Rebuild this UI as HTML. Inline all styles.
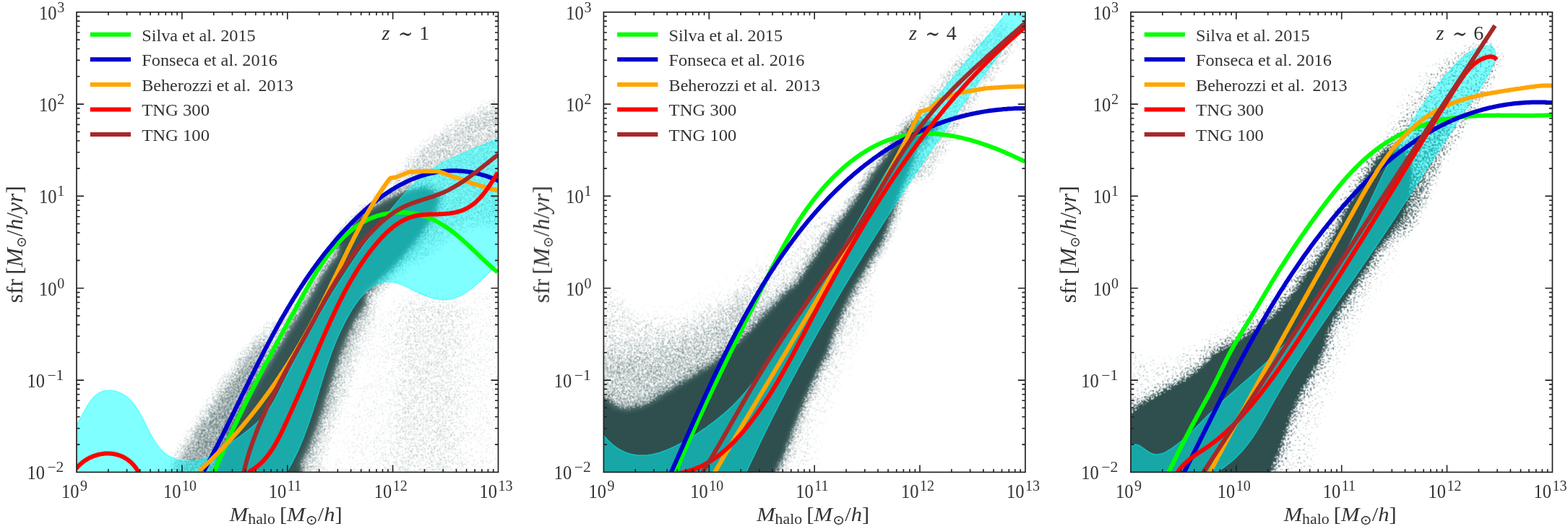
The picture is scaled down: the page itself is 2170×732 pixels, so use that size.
<!DOCTYPE html>
<html><head><meta charset="utf-8"><style>html,body{margin:0;padding:0;background:#fff;overflow:hidden}svg{display:block}text{font-family:"Liberation Serif", "DejaVu Serif", serif;fill:#333}</style></head>
<body><svg width="2170" height="732" viewBox="0 0 2170 732"><defs><clipPath id="c0"><rect x="106" y="16.8" width="583.5" height="636.6"/></clipPath><clipPath id="c1"><rect x="835.4" y="16.8" width="583.5" height="636.6"/></clipPath><clipPath id="c2"><rect x="1564.9" y="16.8" width="583.5" height="636.6"/></clipPath><filter id="b0_0" filterUnits="userSpaceOnUse" x="0" y="0" width="2170" height="732"><feGaussianBlur stdDeviation="12"/></filter><filter id="b0_1" filterUnits="userSpaceOnUse" x="0" y="0" width="2170" height="732"><feGaussianBlur stdDeviation="14"/></filter><filter id="b0_2" filterUnits="userSpaceOnUse" x="0" y="0" width="2170" height="732"><feGaussianBlur stdDeviation="8"/></filter><filter id="b0_3" filterUnits="userSpaceOnUse" x="0" y="0" width="2170" height="732"><feGaussianBlur stdDeviation="8"/></filter><filter id="b0_4" filterUnits="userSpaceOnUse" x="0" y="0" width="2170" height="732"><feGaussianBlur stdDeviation="6"/></filter><filter id="b0_5" filterUnits="userSpaceOnUse" x="0" y="0" width="2170" height="732"><feGaussianBlur stdDeviation="3"/></filter><filter id="b1_0" filterUnits="userSpaceOnUse" x="0" y="0" width="2170" height="732"><feGaussianBlur stdDeviation="10"/></filter><filter id="b1_1" filterUnits="userSpaceOnUse" x="0" y="0" width="2170" height="732"><feGaussianBlur stdDeviation="16"/></filter><filter id="b1_2" filterUnits="userSpaceOnUse" x="0" y="0" width="2170" height="732"><feGaussianBlur stdDeviation="14"/></filter><filter id="b1_3" filterUnits="userSpaceOnUse" x="0" y="0" width="2170" height="732"><feGaussianBlur stdDeviation="7"/></filter><filter id="b1_4" filterUnits="userSpaceOnUse" x="0" y="0" width="2170" height="732"><feGaussianBlur stdDeviation="6"/></filter><filter id="b1_5" filterUnits="userSpaceOnUse" x="0" y="0" width="2170" height="732"><feGaussianBlur stdDeviation="3"/></filter><filter id="b1_6" filterUnits="userSpaceOnUse" x="0" y="0" width="2170" height="732"><feGaussianBlur stdDeviation="1.2"/></filter><filter id="b2_0" filterUnits="userSpaceOnUse" x="0" y="0" width="2170" height="732"><feGaussianBlur stdDeviation="8"/></filter><filter id="b2_1" filterUnits="userSpaceOnUse" x="0" y="0" width="2170" height="732"><feGaussianBlur stdDeviation="6"/></filter><filter id="b2_2" filterUnits="userSpaceOnUse" x="0" y="0" width="2170" height="732"><feGaussianBlur stdDeviation="7"/></filter><filter id="b2_3" filterUnits="userSpaceOnUse" x="0" y="0" width="2170" height="732"><feGaussianBlur stdDeviation="5"/></filter><filter id="b2_4" filterUnits="userSpaceOnUse" x="0" y="0" width="2170" height="732"><feGaussianBlur stdDeviation="2"/></filter><filter id="b2_5" filterUnits="userSpaceOnUse" x="0" y="0" width="2170" height="732"><feGaussianBlur stdDeviation="1.0"/></filter><filter id="speck0" filterUnits="userSpaceOnUse" x="106" y="16.8" width="583.5" height="636.6" color-interpolation-filters="sRGB"><feTurbulence type="fractalNoise" baseFrequency="0.75" numOctaves="2" seed="3" result="n"/><feColorMatrix in="n" type="matrix" values="0 0 0 0 0  0 0 0 0 0  0 0 0 0 0  1 0 0 0 0" result="na"/><feComponentTransfer in="na" result="nu"><feFuncA type="table" tableValues="0.0000 0.0000 0.0000 0.0000 0.0000 0.0000 0.0003 0.0011 0.0028 0.0072 0.0140 0.0283 0.0481 0.0735 0.1112 0.1523 0.2000 0.2661 0.3294 0.4096 0.4763 0.5944 0.6737 0.7356 0.7996 0.8468 0.8869 0.9254 0.9511 0.9704 0.9847 0.9920 0.9960 0.9984 0.9995 0.9999 1.0000 1.0000 1.0000 1.0000 1.0000"/></feComponentTransfer><feComposite in="SourceAlpha" in2="nu" operator="arithmetic" k1="0" k2="18.0" k3="-12" k4="0" result="m0"/><feConvolveMatrix in="m0" order="3" kernelMatrix="1 2 1 2 4 2 1 2 1" edgeMode="none" result="m1"/><feComposite in="m1" in2="SourceAlpha" operator="arithmetic" k1="0.6" k2="0.4" k3="0" k4="0" result="m"/><feFlood flood-color="#2f4f4f" result="fc"/><feComposite in="fc" in2="m" operator="in"/></filter><filter id="speck1" filterUnits="userSpaceOnUse" x="835.4" y="16.8" width="583.5" height="636.6" color-interpolation-filters="sRGB"><feTurbulence type="fractalNoise" baseFrequency="0.7" numOctaves="2" seed="4" result="n"/><feColorMatrix in="n" type="matrix" values="0 0 0 0 0  0 0 0 0 0  0 0 0 0 0  1 0 0 0 0" result="na"/><feComponentTransfer in="na" result="nu"><feFuncA type="table" tableValues="0.0000 0.0000 0.0000 0.0000 0.0000 0.0000 0.0003 0.0011 0.0028 0.0072 0.0140 0.0283 0.0481 0.0735 0.1112 0.1523 0.2000 0.2661 0.3294 0.4096 0.4763 0.5944 0.6737 0.7356 0.7996 0.8468 0.8869 0.9254 0.9511 0.9704 0.9847 0.9920 0.9960 0.9984 0.9995 0.9999 1.0000 1.0000 1.0000 1.0000 1.0000"/></feComponentTransfer><feComposite in="SourceAlpha" in2="nu" operator="arithmetic" k1="0" k2="15.600000000000001" k3="-12" k4="0" result="m0"/><feConvolveMatrix in="m0" order="3" kernelMatrix="1 2 1 2 4 2 1 2 1" edgeMode="none" result="m1"/><feComposite in="m1" in2="SourceAlpha" operator="arithmetic" k1="0.4" k2="0.6" k3="0" k4="0" result="m"/><feFlood flood-color="#2f4f4f" result="fc"/><feComposite in="fc" in2="m" operator="in"/></filter><filter id="speck2" filterUnits="userSpaceOnUse" x="1564.9" y="16.8" width="583.5" height="636.6" color-interpolation-filters="sRGB"><feTurbulence type="fractalNoise" baseFrequency="0.45" numOctaves="2" seed="5" result="n"/><feColorMatrix in="n" type="matrix" values="0 0 0 0 0  0 0 0 0 0  0 0 0 0 0  1 0 0 0 0" result="na"/><feComponentTransfer in="na" result="nu"><feFuncA type="table" tableValues="0.0000 0.0000 0.0000 0.0000 0.0000 0.0000 0.0003 0.0011 0.0028 0.0072 0.0140 0.0283 0.0481 0.0735 0.1112 0.1523 0.2000 0.2661 0.3294 0.4096 0.4763 0.5944 0.6737 0.7356 0.7996 0.8468 0.8869 0.9254 0.9511 0.9704 0.9847 0.9920 0.9960 0.9984 0.9995 0.9999 1.0000 1.0000 1.0000 1.0000 1.0000"/></feComponentTransfer><feComposite in="SourceAlpha" in2="nu" operator="arithmetic" k1="0" k2="13.200000000000001" k3="-12" k4="0" result="m0"/><feConvolveMatrix in="m0" order="3" kernelMatrix="1 2 1 2 6 2 1 2 1" edgeMode="none" result="m1"/><feComposite in="m1" in2="SourceAlpha" operator="arithmetic" k1="0.15000000000000002" k2="0.85" k3="0" k4="0" result="m"/><feFlood flood-color="#2f4f4f" result="fc"/><feComposite in="fc" in2="m" operator="in"/></filter></defs>
<g clip-path="url(#c0)">
<g filter="url(#speck0)">
<g opacity="0.05" filter="url(#b0_0)"><path d="M455 700 C416.7 683.3 464.2 630 470 600 C475.8 570 484.2 541.7 490 520 C495.8 498.3 499.2 485 505 470 C510.8 455 515.8 440 525 430 C534.2 420 547.5 411.7 560 410 C572.5 408.3 586.7 419.2 600 420 C613.3 420.8 623.3 419.2 640 415 C656.7 410.8 690 347.5 700 395 C710 442.5 740.8 649.2 700 700 C659.2 750.8 493.3 716.7 455 700Z" fill="#000"/></g>
<g opacity="0.07" filter="url(#b0_1)"><path d="M545 700 C531.3 676.7 546.8 601.7 548 560 C549.2 518.3 549.2 475.8 552 450 C554.8 424.2 557 413.3 565 405 C573 396.7 589.2 399.2 600 400 C610.8 400.8 623.3 400 630 410 C636.7 420 639 435 640 460 C641 485 637.7 520 636 560 C634.3 600 645.2 676.7 630 700 C614.8 723.3 558.7 723.3 545 700Z" fill="#000"/></g>
<g opacity="0.25" filter="url(#b0_2)"><path d="M215 700 C181.5 700 224.8 670.8 230 660 C235.2 649.2 237.7 649.2 246 635 C254.3 620.8 267.7 595.3 280 575 C292.3 554.7 308.8 528.8 320 513 C331.2 497.2 337.8 490.5 347 480 C356.2 469.5 364.8 460 375 450 C385.2 440 398.3 430.8 408 420 C417.7 409.2 424 397.5 433 385 C442 372.5 453.2 356.7 462 345 C470.8 333.3 478.8 323.3 486 315 C493.2 306.7 498 302.2 505 295 C512 287.8 521.3 279.5 528 272 C534.7 264.5 539 257.7 545 250 C551 242.3 557.6 233.2 564 226 C570.4 218.8 575.4 214.3 583.6 207 C591.8 199.7 602.6 189.5 613 182 C623.4 174.5 633.3 169 646 162 C658.7 155 680 144.2 689 140 C698 135.8 698.2 110.3 700 137 C701.8 163.7 706.7 271.2 700 300 C693.3 328.8 673.3 305 660 310 C646.7 315 631.7 322.5 620 330 C608.3 337.5 600 347.5 590 355 C580 362.5 569.2 368.3 560 375 C550.8 381.7 542.5 387.5 535 395 C527.5 402.5 518.4 412.5 515 420 C511.6 427.5 516.4 433.3 514.7 440 C513 446.7 507.8 453.3 504.7 460 C501.6 466.7 498.9 473.3 496.2 480 C493.6 486.7 491.2 493.3 488.9 500 C486.5 506.7 484.4 513.3 482.2 520 C480.1 526.7 478 533.3 476 540 C473.9 546.7 471.9 553.3 469.7 560 C467.6 566.7 465.5 573.3 463.3 580 C461 586.7 458.7 593.3 456.1 600 C453.6 606.7 450.9 613.3 447.9 620 C445 626.7 441.2 633.3 438.3 640 C435.5 646.7 468.3 650 431.1 660 C393.9 670 248.5 700 215 700Z" fill="#000"/></g>
<g opacity="0.3" filter="url(#b0_3)"><path d="M235 660 C225 655 243.3 641.7 250 630 C256.7 618.3 266.7 602.5 275 590 C283.3 577.5 291.7 566.7 300 555 C308.3 543.3 317.5 530.8 325 520 C332.5 509.2 338.3 498.3 345 490 C351.7 481.7 362.5 465 365 470 C367.5 475 364.2 501.7 360 520 C355.8 538.3 346.7 560 340 580 C333.3 600 325 626.7 320 640 C315 653.3 324.2 656.7 310 660 C295.8 663.3 245 665 235 660Z" fill="#000"/></g>
<g opacity="0.45" filter="url(#b0_4)"><path d="M291.7 670 C274.2 668.3 296.9 656.7 299.7 650 C302.5 643.3 305.3 636.7 308.2 630 C311.1 623.3 314 616.7 317 610 C320.1 603.3 323.1 596.7 326.3 590 C329.4 583.3 332.4 576.7 335.8 570 C339.2 563.3 342.8 556.7 346.6 550 C350.3 543.3 354.4 536.7 358.4 530 C362.4 523.3 366.5 516.7 370.6 510 C374.6 503.3 378.8 496.7 382.9 490 C387 483.3 391.2 476.7 395.4 470 C399.6 463.3 403.8 456.7 408 450 C412.2 443.3 416.6 436.7 420.7 430 C424.7 423.3 428.6 416.7 432.5 410 C436.4 403.3 439.9 396.7 443.8 390 C447.8 383.3 451.7 376.7 456.1 370 C460.5 363.3 467.9 356.3 470.2 350 C472.6 343.7 467.5 337.3 470 332 C472.5 326.7 480 323.3 485 318 C490 312.7 492.5 306 500 300 C507.5 294 520 287.3 530 282 C540 276.7 550 271.3 560 268 C570 264.7 582.5 260.8 590 262 C597.5 263.2 604.2 268.7 605 275 C605.8 281.3 600 290.8 595 300 C590 309.2 582.5 320 575 330 C567.5 340 558.3 350.8 550 360 C541.7 369.2 532.5 377.5 525 385 C517.5 392.5 508.7 399.2 505 405 C501.3 410.8 505.2 414.2 502.8 420 C500.5 425.8 494.4 433.3 490.7 440 C487 446.7 483.8 453.3 480.7 460 C477.6 466.7 474.9 473.3 472.2 480 C469.6 486.7 467.2 493.3 464.9 500 C462.5 506.7 460.4 513.3 458.2 520 C456.1 526.7 454 533.3 452 540 C449.9 546.7 447.9 553.3 445.7 560 C443.6 566.7 441.5 573.3 439.3 580 C437 586.7 434.7 593.3 432.1 600 C429.6 606.7 426.9 613.3 423.9 620 C421 626.7 417.6 633.3 414.3 640 C411.1 646.7 424.7 655 404.3 660 C383.8 665 309.1 671.7 291.7 670Z" fill="#000" stroke="#000" stroke-width="12" stroke-linejoin="round"/></g>
<g opacity="0.9" filter="url(#b0_5)"><path d="M291.7 670 C274.2 668.3 296.9 656.7 299.7 650 C302.5 643.3 305.3 636.7 308.2 630 C311.1 623.3 314 616.7 317 610 C320.1 603.3 323.1 596.7 326.3 590 C329.4 583.3 332.4 576.7 335.8 570 C339.2 563.3 342.8 556.7 346.6 550 C350.3 543.3 354.4 536.7 358.4 530 C362.4 523.3 366.5 516.7 370.6 510 C374.6 503.3 378.8 496.7 382.9 490 C387 483.3 391.2 476.7 395.4 470 C399.6 463.3 403.8 456.7 408 450 C412.2 443.3 416.6 436.7 420.7 430 C424.7 423.3 428.6 416.7 432.5 410 C436.4 403.3 439.9 396.7 443.8 390 C447.8 383.3 451.7 376.7 456.1 370 C460.5 363.3 467.9 356.3 470.2 350 C472.6 343.7 467.5 337.3 470 332 C472.5 326.7 480 323.3 485 318 C490 312.7 492.5 306 500 300 C507.5 294 520 287.3 530 282 C540 276.7 550 271.3 560 268 C570 264.7 582.5 260.8 590 262 C597.5 263.2 604.2 268.7 605 275 C605.8 281.3 600 290.8 595 300 C590 309.2 582.5 320 575 330 C567.5 340 558.3 350.8 550 360 C541.7 369.2 532.5 377.5 525 385 C517.5 392.5 508.7 399.2 505 405 C501.3 410.8 505.2 414.2 502.8 420 C500.5 425.8 494.4 433.3 490.7 440 C487 446.7 483.8 453.3 480.7 460 C477.6 466.7 474.9 473.3 472.2 480 C469.6 486.7 467.2 493.3 464.9 500 C462.5 506.7 460.4 513.3 458.2 520 C456.1 526.7 454 533.3 452 540 C449.9 546.7 447.9 553.3 445.7 560 C443.6 566.7 441.5 573.3 439.3 580 C437 586.7 434.7 593.3 432.1 600 C429.6 606.7 426.9 613.3 423.9 620 C421 626.7 417.6 633.3 414.3 640 C411.1 646.7 424.7 655 404.3 660 C383.8 665 309.1 671.7 291.7 670Z" fill="#000"/></g>
</g>
<path d="M106.1 587.3 L107.4 585.3 L108.8 583 L110.2 580.6 L111.6 578 L113.1 575.2 L114.6 572.4 L116.2 569.5 L117.8 566.5 L119.5 563.6 L121.2 560.7 L123.1 557.9 L125 555.2 L127 552.6 L129.1 550.2 L131.3 548 L133.6 546 L136 544.3 L138.5 542.9 L141.1 541.8 L143.8 541 L146.6 540.4 L149.4 540.2 L152.2 540.1 L155.1 540.4 L157.9 540.8 L160.8 541.5 L163.6 542.4 L166.3 543.5 L168.9 544.7 L171.4 546.2 L173.9 547.8 L176.2 549.5 L178.4 551.4 L180.5 553.4 L182.5 555.6 L184.4 557.8 L186.2 560.2 L188 562.6 L189.7 565.2 L191.4 567.8 L193 570.5 L194.5 573.2 L196 576 L197.5 578.8 L199 581.7 L200.4 584.6 L201.9 587.5 L203.3 590.4 L204.7 593.3 L206.2 596.1 L207.7 599 L209.2 601.8 L210.7 604.6 L212.2 607.3 L213.9 609.9 L215.5 612.5 L217.2 615 L219 617.4 L220.9 619.7 L222.9 621.9 L224.9 624 L227 626 L229.3 627.8 L231.6 629.5 L234 631 L236.6 632.4 L239.3 633.6 L242 634.7 L244.8 635.6 L247.7 636.3 L250.6 637 L253.6 637.4 L256.6 637.7 L259.6 637.9 L262.6 637.9 L265.7 637.8 L268.7 637.5 L271.7 637.1 L274.6 636.6 L277.6 635.9 L280.5 635 L283.3 634 L286.1 633 L288.8 631.7 L291.6 630.4 L294.2 629.1 L296.9 627.6 L299.5 626 L302.1 624.4 L304.7 622.8 L307.3 621.1 L309.8 619.4 L312.4 617.6 L314.9 615.8 L317.4 614.1 L319.9 612.3 L322.4 610.6 L325 608.8 L327.4 607 L329.9 605.2 L332.4 603.5 L334.8 601.7 L337.3 599.9 L339.7 598 L342 596.2 L344.4 594.3 L346.7 592.4 L349 590.5 L351.2 588.6 L353.5 586.6 L355.6 584.6 L357.8 582.5 L359.8 580.5 L361.9 578.3 L363.9 576.2 L365.8 574 L367.7 571.7 L369.5 569.4 L371.3 567 L373 564.6 L374.7 562.2 L376.3 559.6 L377.8 557.1 L379.3 554.5 L380.8 551.9 L382.2 549.2 L383.6 546.5 L385 543.8 L386.4 541.1 L387.7 538.4 L389.1 535.6 L390.4 532.9 L391.8 530.1 L393.1 527.4 L394.5 524.7 L395.8 521.9 L397.2 519.2 L398.6 516.5 L399.9 513.8 L401.3 511.1 L402.7 508.4 L404.1 505.6 L405.4 502.9 L406.8 500.2 L408.2 497.5 L409.6 494.8 L411 492.2 L412.4 489.5 L413.8 486.8 L415.2 484.1 L416.7 481.4 L418.1 478.8 L419.5 476.1 L420.9 473.4 L422.4 470.8 L423.8 468.1 L425.3 465.4 L426.7 462.8 L428.2 460.1 L429.6 457.5 L431.1 454.9 L432.5 452.2 L434 449.6 L435.5 447 L437 444.3 L438.5 441.7 L440 439.1 L441.5 436.5 L443 433.9 L444.5 431.3 L446 428.7 L447.5 426.1 L449.1 423.5 L450.6 420.9 L452.1 418.3 L453.7 415.7 L455.2 413.2 L456.8 410.6 L458.4 408 L459.9 405.4 L461.5 402.9 L463.1 400.3 L464.7 397.8 L466.3 395.2 L467.9 392.7 L469.5 390.1 L471.1 387.6 L472.7 385.1 L474.3 382.5 L475.9 380 L477.6 377.5 L479.2 375 L480.9 372.4 L482.5 369.9 L484.2 367.4 L485.9 364.9 L487.5 362.4 L489.2 359.9 L490.9 357.4 L492.6 355 L494.3 352.5 L496 350 L497.7 347.5 L499.5 345.1 L501.2 342.6 L502.9 340.1 L504.7 337.7 L506.5 335.2 L508.2 332.8 L510 330.3 L511.8 327.9 L513.5 325.5 L515.3 323 L517.1 320.6 L518.9 318.2 L520.8 315.8 L522.6 313.4 L524.4 311 L526.3 308.6 L528.1 306.2 L530 303.8 L531.8 301.4 L533.7 299 L535.6 296.6 L537.5 294.2 L539.4 291.9 L541.3 289.5 L543.2 287.1 L545.1 284.8 L547 282.4 L549 280.1 L551 277.8 L552.9 275.5 L554.9 273.2 L556.9 270.9 L559 268.7 L561 266.4 L563.1 264.2 L565.1 262 L567.2 259.9 L569.4 257.7 L571.5 255.6 L573.7 253.5 L575.9 251.5 L578.1 249.4 L580.3 247.5 L582.6 245.5 L584.9 243.6 L587.2 241.7 L589.6 239.8 L591.9 238 L594.4 236.3 L596.8 234.5 L599.3 232.9 L601.8 231.2 L604.3 229.6 L606.9 228.1 L609.5 226.6 L612.2 225.1 L614.8 223.7 L617.5 222.3 L620.3 221 L623 219.7 L625.7 218.4 L628.5 217.1 L631.3 215.9 L634.1 214.6 L636.9 213.4 L639.7 212.2 L642.6 211.1 L645.4 209.9 L648.2 208.7 L651 207.6 L653.9 206.4 L656.7 205.3 L659.5 204.1 L662.3 203 L665.1 201.8 L667.9 200.6 L670.7 199.5 L673.4 198.3 L676.2 197 L678.9 195.8 L681.6 194.5 L684.2 193.3 L686.8 191.9 L689.5 190.6 L694.5 190.6 L694.1 365.8 L689.1 365.8 L687 367.6 L684.8 369.6 L682.7 371.6 L680.5 373.7 L678.3 375.8 L676.1 378 L673.9 380.2 L671.6 382.4 L669.3 384.6 L667 386.8 L664.6 389 L662.3 391.1 L659.9 393.2 L657.5 395.3 L655 397.4 L652.6 399.3 L650.1 401.2 L647.6 403 L645 404.8 L642.4 406.4 L639.9 407.9 L637.2 409.3 L634.6 410.5 L631.9 411.7 L629.2 412.6 L626.5 413.4 L623.8 414.1 L621 414.5 L618.2 414.8 L615.4 414.9 L612.6 414.9 L609.7 414.7 L606.8 414.3 L603.9 413.8 L601 413.2 L598.1 412.4 L595.2 411.5 L592.2 410.5 L589.2 409.4 L586.3 408.2 L583.3 407 L580.3 405.6 L577.3 404.2 L574.3 402.8 L571.3 401.3 L568.3 399.8 L565.3 398.4 L562.3 397 L559.4 395.7 L556.5 394.5 L553.6 393.4 L550.7 392.4 L547.9 391.5 L545.2 390.9 L542.4 390.4 L539.7 390.2 L537.1 390.1 L534.5 390.2 L531.9 390.5 L529.4 391 L527 391.6 L524.5 392.4 L522.2 393.4 L519.8 394.5 L517.5 395.7 L515.3 397.1 L513.1 398.6 L510.9 400.3 L508.8 402 L506.7 403.9 L504.7 405.9 L502.6 408 L500.7 410.1 L498.8 412.4 L496.9 414.7 L495 417.1 L493.2 419.6 L491.4 422.1 L489.7 424.7 L488 427.3 L486.3 430 L484.7 432.7 L483.1 435.4 L481.6 438.1 L480 440.9 L478.5 443.7 L477.1 446.5 L475.7 449.3 L474.3 452.1 L472.9 454.9 L471.6 457.7 L470.3 460.5 L469 463.3 L467.8 466.1 L466.5 469 L465.4 471.8 L464.2 474.7 L463 477.5 L461.9 480.4 L460.8 483.2 L459.7 486.1 L458.7 488.9 L457.6 491.8 L456.6 494.7 L455.6 497.6 L454.6 500.5 L453.6 503.3 L452.6 506.2 L451.6 509.1 L450.7 512 L449.8 514.9 L448.8 517.8 L447.9 520.7 L447 523.6 L446.1 526.5 L445.2 529.4 L444.3 532.3 L443.4 535.2 L442.5 538 L441.7 540.9 L440.8 543.8 L439.9 546.7 L439 549.6 L438.1 552.5 L437.2 555.4 L436.3 558.3 L435.4 561.2 L434.5 564 L433.6 566.9 L432.7 569.8 L431.8 572.7 L430.8 575.5 L429.9 578.4 L428.9 581.2 L428 584.1 L427 586.9 L426 589.8 L425 592.6 L424 595.4 L422.9 598.3 L421.8 601.1 L420.8 603.9 L419.7 606.7 L418.5 609.5 L417.4 612.3 L416.2 615.1 L415 617.8 L413.8 620.6 L412.6 623.4 L411.3 626.1 L410 628.9 L408.7 631.6 L407.3 634.3 L405.9 637 L404.5 639.7 L403.1 642.4 L401.6 645.1 L400.1 647.8 L398.5 650.4 L396.9 653.1 L396.9 720 L96 720 L96 587.3Z" fill="#00ffff" fill-opacity="0.5" stroke="#00ffff" stroke-opacity="0.5" stroke-width="1.3"/>
<path d="M296.1 654 L297.3 651.1 L298.5 648.2 L299.7 645.3 L300.9 642.4 L302.1 639.5 L303.3 636.7 L304.5 633.8 L305.8 631 L307 628.2 L308.2 625.3 L309.5 622.5 L310.7 619.7 L311.9 616.9 L313.2 614.1 L314.4 611.4 L315.7 608.6 L317 605.8 L318.2 603 L319.5 600.3 L320.8 597.5 L322 594.8 L323.3 592.1 L324.6 589.3 L325.9 586.6 L327.2 583.9 L328.5 581.2 L329.7 578.5 L331 575.8 L332.3 573.1 L333.7 570.4 L335 567.7 L336.3 565 L337.6 562.3 L338.9 559.6 L340.2 557 L341.6 554.3 L342.9 551.6 L344.2 549 L345.6 546.3 L346.9 543.7 L348.2 541 L349.6 538.4 L350.9 535.7 L352.3 533.1 L353.7 530.4 L355 527.8 L356.4 525.2 L357.7 522.5 L359.1 519.9 L360.5 517.3 L361.9 514.6 L363.2 512 L364.6 509.4 L366 506.7 L367.4 504.1 L368.8 501.5 L370.2 498.9 L371.6 496.2 L373 493.6 L374.4 491 L375.8 488.4 L377.2 485.7 L378.6 483.1 L380 480.5 L381.4 477.8 L382.9 475.2 L384.3 472.6 L385.7 469.9 L387.2 467.3 L388.6 464.7 L390 462 L391.5 459.4 L392.9 456.7 L394.3 454.1 L395.8 451.4 L397.2 448.8 L398.7 446.1 L400.2 443.4 L401.6 440.8 L403.1 438.1 L404.5 435.4 L406 432.8 L407.5 430.1 L409 427.4 L410.4 424.7 L411.9 422 L413.4 419.3 L414.9 416.6 L416.4 413.9 L417.9 411.2 L419.4 408.5 L420.9 405.8 L422.4 403.1 L423.9 400.3 L425.4 397.6 L427 394.9 L428.5 392.3 L430.1 389.6 L431.6 386.9 L433.2 384.2 L434.8 381.6 L436.5 378.9 L438.1 376.3 L439.7 373.7 L441.4 371.1 L443.1 368.5 L444.8 365.9 L446.5 363.4 L448.3 360.9 L450 358.4 L451.8 355.9 L453.6 353.4 L455.5 351 L457.4 348.6 L459.2 346.2 L461.2 343.8 L463.1 341.5 L465.1 339.2 L467.1 337 L469.1 334.7 L471.2 332.5 L473.3 330.4 L475.4 328.3 L477.6 326.2 L479.8 324.1 L482 322.1 L484.3 320.2 L486.6 318.3 L488.9 316.5 L491.3 314.7 L493.7 312.9 L496.2 311.3 L498.6 309.7 L501.2 308.1 L503.7 306.7 L506.3 305.3 L508.9 304 L511.5 302.8 L514.2 301.7 L516.9 300.6 L519.6 299.6 L522.3 298.7 L525.1 297.9 L527.9 297.1 L530.7 296.5 L533.5 295.9 L536.4 295.4 L539.2 294.9 L542.1 294.6 L545 294.3 L547.8 294.1 L550.7 294 L553.6 293.9 L556.5 294 L559.4 294.1 L562.3 294.3 L565.2 294.6 L568.1 294.9 L571 295.3 L573.9 295.8 L576.8 296.4 L579.6 297.1 L582.5 297.8 L585.3 298.7 L588.1 299.6 L591 300.5 L593.7 301.6 L596.5 302.7 L599.3 304 L602 305.2 L604.7 306.6 L607.3 308.1 L610 309.6 L612.6 311.2 L615.2 312.8 L617.8 314.5 L620.3 316.3 L622.9 318.1 L625.4 320 L627.9 321.9 L630.3 323.9 L632.8 325.9 L635.2 327.9 L637.6 329.9 L640 332 L642.3 334.1 L644.7 336.2 L647 338.4 L649.3 340.5 L651.6 342.7 L653.9 344.8 L656.2 347 L658.4 349.1 L660.7 351.3 L662.9 353.4 L665.1 355.5 L667.3 357.6 L669.5 359.6 L671.6 361.7 L673.8 363.7 L675.9 365.6 L678.1 367.5 L680.2 369.4 L682.3 371.3 L684.4 373 L686.5 374.8 L688.6 376.4" fill="none" stroke="#00ff00" stroke-width="6.0" stroke-linejoin="round"/>
<path d="M282 652.1 L283.4 649.5 L284.8 647 L286.1 644.4 L287.5 641.8 L288.9 639.2 L290.3 636.5 L291.7 633.9 L293.1 631.3 L294.4 628.7 L295.8 626 L297.2 623.4 L298.5 620.8 L299.9 618.1 L301.2 615.4 L302.6 612.8 L303.9 610.1 L305.3 607.5 L306.6 604.8 L308 602.1 L309.3 599.4 L310.6 596.8 L312 594.1 L313.3 591.4 L314.6 588.7 L316 586 L317.3 583.3 L318.6 580.6 L320 577.9 L321.3 575.2 L322.6 572.5 L324 569.8 L325.3 567 L326.6 564.3 L327.9 561.6 L329.3 558.9 L330.6 556.2 L331.9 553.5 L333.3 550.7 L334.6 548 L335.9 545.3 L337.3 542.6 L338.6 539.8 L339.9 537.1 L341.3 534.4 L342.6 531.7 L344 528.9 L345.3 526.2 L346.7 523.5 L348 520.8 L349.4 518 L350.7 515.3 L352.1 512.6 L353.4 509.9 L354.8 507.1 L356.2 504.4 L357.6 501.7 L358.9 499 L360.3 496.3 L361.7 493.6 L363.1 490.9 L364.5 488.1 L365.9 485.4 L367.3 482.7 L368.7 480 L370.1 477.3 L371.5 474.6 L373 471.9 L374.4 469.3 L375.8 466.6 L377.3 463.9 L378.7 461.2 L380.2 458.5 L381.6 455.9 L383.1 453.2 L384.6 450.5 L386 447.9 L387.5 445.2 L389 442.6 L390.5 439.9 L392 437.3 L393.6 434.7 L395.1 432 L396.6 429.4 L398.1 426.8 L399.7 424.2 L401.3 421.6 L402.8 419 L404.4 416.4 L406 413.8 L407.6 411.2 L409.2 408.6 L410.8 406.1 L412.4 403.5 L414 400.9 L415.7 398.4 L417.3 395.9 L419 393.3 L420.6 390.8 L422.3 388.3 L424 385.8 L425.7 383.3 L427.4 380.8 L429.1 378.3 L430.9 375.8 L432.6 373.3 L434.4 370.9 L436.1 368.4 L437.9 366 L439.7 363.6 L441.5 361.1 L443.3 358.7 L445.2 356.3 L447 353.9 L448.8 351.5 L450.7 349.2 L452.6 346.8 L454.5 344.5 L456.4 342.1 L458.3 339.8 L460.2 337.5 L462.2 335.1 L464.1 332.8 L466.1 330.6 L468.1 328.3 L470.1 326 L472.1 323.8 L474.2 321.5 L476.2 319.3 L478.3 317.1 L480.3 314.9 L482.4 312.7 L484.5 310.5 L486.7 308.3 L488.8 306.2 L491 304 L493.1 301.9 L495.3 299.8 L497.5 297.7 L499.7 295.6 L502 293.6 L504.2 291.5 L506.5 289.5 L508.8 287.5 L511.1 285.6 L513.4 283.6 L515.7 281.7 L518.1 279.8 L520.4 277.9 L522.8 276.1 L525.2 274.3 L527.6 272.5 L530 270.8 L532.5 269 L535 267.4 L537.4 265.7 L539.9 264.1 L542.4 262.5 L545 261 L547.5 259.4 L550.1 258 L552.6 256.5 L555.2 255.2 L557.9 253.8 L560.5 252.5 L563.1 251.2 L565.8 250 L568.5 248.8 L571.2 247.7 L573.9 246.6 L576.6 245.6 L579.4 244.6 L582.1 243.7 L584.9 242.8 L587.7 242 L590.5 241.2 L593.3 240.5 L596.2 239.8 L599 239.2 L601.9 238.6 L604.8 238.1 L607.7 237.7 L610.6 237.3 L613.6 237 L616.5 236.7 L619.5 236.5 L622.5 236.3 L625.5 236.3 L628.5 236.3 L631.5 236.3 L634.5 236.4 L637.5 236.6 L640.6 236.8 L643.7 237.2 L646.8 237.6 L649.8 238 L652.9 238.5 L656.1 239.1 L659.2 239.8 L662.3 240.6 L665.5 241.4 L668.6 242.3 L671.8 243.2 L675 244.3 L678.2 245.4 L681.4 246.6 L684.6 247.9 L687.8 249.3 L691 250.7" fill="none" stroke="#0000cd" stroke-width="6.0" stroke-linejoin="round"/>
<path d="M275.6 651.8 L277.9 649.8 L280.2 647.7 L282.4 645.5 L284.7 643.4 L286.9 641.3 L289.1 639.2 L291.3 637 L293.5 634.9 L295.7 632.7 L297.8 630.5 L300 628.4 L302.1 626.2 L304.3 624 L306.4 621.8 L308.5 619.6 L310.6 617.4 L312.7 615.1 L314.8 612.9 L316.8 610.7 L318.9 608.4 L320.9 606.2 L322.9 603.9 L325 601.6 L327 599.4 L329 597.1 L331 594.8 L332.9 592.5 L334.9 590.2 L336.9 587.8 L338.8 585.5 L340.7 583.2 L342.7 580.9 L344.6 578.5 L346.5 576.2 L348.4 573.8 L350.2 571.4 L352.1 569.1 L354 566.7 L355.8 564.3 L357.7 561.9 L359.5 559.5 L361.3 557.1 L363.1 554.7 L364.9 552.3 L366.7 549.8 L368.5 547.4 L370.3 545 L372 542.5 L373.8 540.1 L375.5 537.6 L377.3 535.1 L379 532.7 L380.7 530.2 L382.4 527.7 L384.1 525.2 L385.8 522.7 L387.5 520.2 L389.1 517.7 L390.8 515.2 L392.5 512.7 L394.1 510.2 L395.7 507.6 L397.4 505.1 L399 502.5 L400.6 500 L402.2 497.4 L403.8 494.9 L405.3 492.3 L406.9 489.8 L408.5 487.2 L410 484.6 L411.6 482 L413.1 479.4 L414.7 476.8 L416.2 474.2 L417.7 471.6 L419.2 469 L420.7 466.4 L422.2 463.8 L423.7 461.1 L425.1 458.5 L426.6 455.9 L428.1 453.2 L429.5 450.6 L431 448 L432.4 445.3 L433.8 442.6 L435.3 440 L436.7 437.3 L438.1 434.6 L439.5 432 L440.9 429.3 L442.3 426.6 L443.6 423.9 L445 421.2 L446.4 418.5 L447.7 415.8 L449.1 413.1 L450.4 410.4 L451.8 407.7 L453.1 405 L454.4 402.3 L455.8 399.6 L457.1 396.8 L458.4 394.1 L459.7 391.4 L461 388.7 L462.3 385.9 L463.7 383.2 L465 380.5 L466.3 377.8 L467.6 375 L468.9 372.3 L470.2 369.6 L471.5 366.8 L472.8 364.1 L474.1 361.4 L475.4 358.7 L476.7 355.9 L478.1 353.2 L479.4 350.5 L480.7 347.8 L482 345.1 L483.4 342.4 L484.7 339.7 L486.1 337 L487.4 334.3 L488.8 331.6 L490.1 328.9 L491.5 326.2 L492.9 323.5 L494.3 320.8 L495.7 318.2 L497.1 315.5 L498.5 312.8 L499.9 310.2 L501.4 307.5 L502.8 304.9 L504.3 302.2 L505.7 299.6 L507.2 297 L508.7 294.4 L510.2 291.8 L511.7 289.2 L513.3 286.6 L514.8 284 L516.4 281.4 L517.9 278.9 L519.5 276.3 L521.1 273.8 L522.8 271.2 L524.4 268.7 L526.1 266.2 L527.7 263.7 L529.4 261.2 L531.1 258.7 L532.9 256.2 L534.6 253.8 L536.4 251.3 L538.2 248.9 L540 246.5 L548 245.2 L566.2 238 L590 236.8 L605 237 L613.8 239.5 L623 243.3 L635.6 247.2 L649.2 252.3 L663 256.6 L689.5 264 L700 267" fill="none" stroke="#ffa500" stroke-width="6.0" stroke-linejoin="round"/>
<path d="M343.5 653.5 L346.3 652 L349 650.3 L351.6 648.6 L354.1 646.8 L356.5 644.9 L358.8 643 L361 641 L363.2 638.9 L365.2 636.7 L367.2 634.5 L369.2 632.2 L371 629.8 L372.8 627.4 L374.5 625 L376.2 622.5 L377.8 620 L379.4 617.4 L381 614.8 L382.4 612.2 L383.9 609.5 L385.3 606.8 L386.7 604.1 L388.1 601.4 L389.4 598.7 L390.7 595.9 L392 593.2 L393.3 590.4 L394.6 587.6 L395.9 584.9 L397.2 582.1 L398.4 579.4 L399.7 576.6 L400.9 573.9 L402.2 571.1 L403.4 568.4 L404.6 565.6 L405.9 562.9 L407.1 560.1 L408.3 557.4 L409.5 554.7 L410.7 551.9 L411.9 549.2 L413.1 546.4 L414.3 543.7 L415.5 540.9 L416.7 538.2 L417.9 535.4 L419.1 532.7 L420.3 529.9 L421.4 527.2 L422.6 524.4 L423.8 521.7 L425 518.9 L426.2 516.2 L427.3 513.4 L428.5 510.7 L429.7 507.9 L430.9 505.2 L432 502.4 L433.2 499.7 L434.4 496.9 L435.6 494.1 L436.8 491.4 L438 488.6 L439.1 485.8 L440.3 483.1 L441.5 480.3 L442.7 477.5 L443.9 474.7 L445.1 472 L446.3 469.2 L447.5 466.4 L448.8 463.6 L450 460.8 L451.2 458.1 L452.4 455.3 L453.7 452.5 L454.9 449.7 L456.2 446.9 L457.4 444.1 L458.7 441.4 L460 438.6 L461.3 435.8 L462.6 433 L463.9 430.3 L465.2 427.5 L466.5 424.8 L467.8 422 L469.2 419.3 L470.5 416.5 L471.9 413.8 L473.3 411.1 L474.7 408.4 L476.1 405.6 L477.5 402.9 L479 400.3 L480.4 397.6 L481.9 394.9 L483.4 392.2 L484.9 389.6 L486.4 386.9 L488 384.3 L489.5 381.7 L491.1 379.1 L492.7 376.5 L494.3 373.9 L495.9 371.3 L497.5 368.8 L499.2 366.3 L500.9 363.7 L502.6 361.2 L504.3 358.7 L506.1 356.3 L507.9 353.8 L509.6 351.4 L511.5 348.9 L513.3 346.5 L515.2 344.1 L517.1 341.8 L519 339.4 L520.9 337.1 L522.9 334.8 L524.9 332.5 L526.9 330.3 L528.9 328.1 L531 325.9 L533.1 323.8 L535.2 321.7 L537.4 319.7 L539.6 317.8 L541.9 315.9 L544.1 314 L546.5 312.3 L548.8 310.6 L551.2 309 L553.6 307.5 L556.1 306 L558.6 304.7 L561.2 303.5 L563.8 302.3 L566.5 301.3 L569.2 300.3 L571.9 299.5 L574.7 298.8 L577.6 298.2 L580.5 297.8 L583.4 297.4 L586.4 297.1 L589.4 296.9 L592.4 296.7 L595.4 296.6 L598.4 296.5 L601.5 296.4 L604.6 296.4 L607.6 296.3 L610.6 296.2 L613.6 296 L616.6 295.8 L619.6 295.5 L622.5 295.2 L625.4 294.8 L628.3 294.3 L631.1 293.7 L633.9 293 L636.6 292.2 L639.3 291.3 L641.9 290.2 L644.5 289.1 L647 287.8 L649.4 286.3 L651.8 284.8 L654.2 283.1 L656.5 281.3 L658.7 279.4 L660.9 277.4 L663 275.2 L665.1 273 L667.1 270.7 L669.1 268.3 L671 265.8 L672.9 263.3 L674.8 260.7 L676.6 258 L678.4 255.3 L680.2 252.6 L682 249.9 L683.7 247.1 L685.5 244.3 L687.2 241.6 L688.9 238.8" fill="none" stroke="#ff0000" stroke-width="6.0" stroke-linejoin="round"/>
<path d="M100.4 655 L102.4 652.1 L104.4 649.4 L106.6 646.8 L108.9 644.4 L111.3 642.2 L113.8 640.1 L116.4 638.1 L119.1 636.3 L121.8 634.7 L124.6 633.2 L127.5 631.9 L130.4 630.8 L133.3 629.8 L136.3 629 L139.3 628.4 L142.3 627.9 L145.3 627.6 L148.3 627.5 L151.3 627.5 L154.3 627.8 L157.3 628.1 L160.2 628.7 L163.1 629.5 L165.9 630.4 L168.7 631.5 L171.4 632.8 L174 634.3 L176.6 636 L179 637.8 L181.4 639.9 L183.6 642.1 L185.8 644.5 L187.8 647.1 L189.6 649.9 L191.3 652.9 L192.9 656.1 L194.3 659.5 L195.6 663.1" fill="none" stroke="#ff0000" stroke-width="6.0" stroke-linejoin="round"/>
<path d="M337.2 653.8 L337.9 650.7 L338.7 647.7 L339.5 644.7 L340.3 641.7 L341.1 638.7 L342 635.7 L342.8 632.7 L343.7 629.8 L344.6 626.8 L345.5 623.9 L346.5 621 L347.5 618.1 L348.5 615.2 L349.5 612.3 L350.5 609.5 L351.5 606.6 L352.6 603.8 L353.7 600.9 L354.8 598.1 L355.9 595.3 L357 592.5 L358.1 589.7 L359.3 586.9 L360.5 584.2 L361.7 581.4 L362.9 578.6 L364.1 575.9 L365.3 573.2 L366.5 570.4 L367.8 567.7 L369.1 565 L370.3 562.3 L371.6 559.6 L372.9 556.9 L374.3 554.2 L375.6 551.5 L376.9 548.8 L378.3 546.1 L379.6 543.5 L381 540.8 L382.4 538.1 L383.7 535.5 L385.1 532.8 L386.5 530.2 L387.9 527.5 L389.3 524.9 L390.8 522.2 L392.2 519.6 L393.6 516.9 L395 514.3 L396.5 511.7 L397.9 509 L399.4 506.4 L400.8 503.7 L402.3 501.1 L403.8 498.5 L405.2 495.8 L406.7 493.2 L408.2 490.5 L409.6 487.9 L411.1 485.3 L412.6 482.6 L414.1 480 L415.5 477.3 L417 474.7 L418.5 472 L420 469.3 L421.5 466.7 L422.9 464 L424.4 461.3 L425.9 458.6 L427.3 456 L428.8 453.3 L430.3 450.6 L431.7 447.9 L433.2 445.2 L434.7 442.5 L436.1 439.8 L437.6 437.1 L439.1 434.4 L440.5 431.7 L442 429 L443.5 426.3 L445 423.6 L446.5 420.9 L447.9 418.2 L449.4 415.5 L450.9 412.8 L452.4 410.2 L454 407.5 L455.5 404.8 L457 402.1 L458.5 399.5 L460.1 396.8 L461.6 394.2 L463.2 391.6 L464.7 388.9 L466.3 386.3 L467.9 383.7 L469.5 381.1 L471.1 378.5 L472.7 375.9 L474.3 373.4 L476 370.8 L477.6 368.3 L479.3 365.8 L481 363.2 L482.7 360.7 L484.4 358.3 L486.1 355.8 L487.9 353.3 L489.6 350.9 L491.4 348.5 L493.2 346.1 L495 343.7 L496.8 341.3 L498.7 339 L500.5 336.7 L502.4 334.4 L504.3 332.1 L506.2 329.8 L508.2 327.6 L510.1 325.4 L512.1 323.2 L514.1 321 L516.1 318.9 L518.2 316.7 L520.3 314.6 L522.4 312.6 L524.5 310.5 L526.6 308.5 L528.8 306.6 L531 304.7 L533.3 302.8 L535.5 300.9 L537.9 299.2 L540.2 297.4 L542.6 295.7 L545 294.1 L547.5 292.5 L550 291 L552.5 289.5 L555.1 288.1 L557.7 286.7 L560.4 285.4 L563.1 284.2 L565.9 283.1 L568.7 281.9 L571.5 280.9 L574.4 279.9 L577.3 278.9 L580.2 277.9 L583.1 277 L586 276 L589 275.1 L591.9 274.2 L594.8 273.2 L597.8 272.3 L600.7 271.3 L603.6 270.2 L606.4 269.2 L609.3 268.1 L612.1 266.9 L614.9 265.7 L617.7 264.4 L620.4 263.1 L623.1 261.7 L625.7 260.2 L628.4 258.7 L631 257.2 L633.6 255.7 L636.1 254 L638.7 252.4 L641.2 250.7 L643.7 249 L646.2 247.3 L648.7 245.5 L651.1 243.7 L653.6 241.9 L656 240.1 L658.4 238.3 L660.9 236.4 L663.3 234.5 L665.6 232.7 L668 230.8 L670.4 228.9 L672.8 227 L675.2 225.1 L677.6 223.2 L679.9 221.4 L682.3 219.5 L684.7 217.6 L687.1 215.8 L689.5 214" fill="none" stroke="#a52a2a" stroke-width="6.0" stroke-linejoin="round"/>
</g>
<path d="M124.8 47.7h56.2" stroke="#00ff00" stroke-width="6" stroke-linecap="butt"/>
<text x="196.2" y="56.6" font-size="24" textLength="157.5" lengthAdjust="spacingAndGlyphs">Silva et al. 2015</text>
<path d="M124.8 82.3h56.2" stroke="#0000cd" stroke-width="6" stroke-linecap="butt"/>
<text x="196.2" y="91.2" font-size="24" textLength="187.8" lengthAdjust="spacingAndGlyphs">Fonseca et al. 2016</text>
<path d="M124.8 116.9h56.2" stroke="#ffa500" stroke-width="6" stroke-linecap="butt"/>
<text x="196.2" y="125.8" font-size="24" textLength="209.5" lengthAdjust="spacingAndGlyphs">Beherozzi et al.  2013</text>
<path d="M124.8 151.5h56.2" stroke="#ff0000" stroke-width="6" stroke-linecap="butt"/>
<text x="196.2" y="160.4" font-size="24" textLength="93.8" lengthAdjust="spacingAndGlyphs">TNG 300</text>
<path d="M124.8 186.1h56.2" stroke="#a52a2a" stroke-width="6" stroke-linecap="butt"/>
<text x="196.2" y="195" font-size="24" textLength="93.8" lengthAdjust="spacingAndGlyphs">TNG 100</text>
<text x="528.5" y="54.8" font-size="28" font-style="italic">z</text>
<text x="551" y="56.8" font-size="31" textLength="20.5" lengthAdjust="spacingAndGlyphs">∼</text>
<text x="580.3" y="54.8" font-size="28">1</text>
<path d="M149.9 653.4v-4.5M149.9 16.8v4.5M175.6 653.4v-4.5M175.6 16.8v4.5M193.8 653.4v-4.5M193.8 16.8v4.5M208 653.4v-4.5M208 16.8v4.5M219.5 653.4v-4.5M219.5 16.8v4.5M229.3 653.4v-4.5M229.3 16.8v4.5M237.7 653.4v-4.5M237.7 16.8v4.5M245.2 653.4v-4.5M245.2 16.8v4.5M251.9 653.4v-10M251.9 16.8v10M295.8 653.4v-4.5M295.8 16.8v4.5M321.5 653.4v-4.5M321.5 16.8v4.5M339.7 653.4v-4.5M339.7 16.8v4.5M353.8 653.4v-4.5M353.8 16.8v4.5M365.4 653.4v-4.5M365.4 16.8v4.5M375.2 653.4v-4.5M375.2 16.8v4.5M383.6 653.4v-4.5M383.6 16.8v4.5M391.1 653.4v-4.5M391.1 16.8v4.5M397.8 653.4v-10M397.8 16.8v10M441.7 653.4v-4.5M441.7 16.8v4.5M467.4 653.4v-4.5M467.4 16.8v4.5M485.6 653.4v-4.5M485.6 16.8v4.5M499.7 653.4v-4.5M499.7 16.8v4.5M511.3 653.4v-4.5M511.3 16.8v4.5M521 653.4v-4.5M521 16.8v4.5M529.5 653.4v-4.5M529.5 16.8v4.5M537 653.4v-4.5M537 16.8v4.5M543.6 653.4v-10M543.6 16.8v10M587.5 653.4v-4.5M587.5 16.8v4.5M613.2 653.4v-4.5M613.2 16.8v4.5M631.5 653.4v-4.5M631.5 16.8v4.5M645.6 653.4v-4.5M645.6 16.8v4.5M657.1 653.4v-4.5M657.1 16.8v4.5M666.9 653.4v-4.5M666.9 16.8v4.5M675.4 653.4v-4.5M675.4 16.8v4.5M682.8 653.4v-4.5M682.8 16.8v4.5M106 615.1h4.5M689.5 615.1h-4.5M106 592.7h4.5M689.5 592.7h-4.5M106 576.7h4.5M689.5 576.7h-4.5M106 564.4h4.5M689.5 564.4h-4.5M106 554.3h4.5M689.5 554.3h-4.5M106 545.8h4.5M689.5 545.8h-4.5M106 538.4h4.5M689.5 538.4h-4.5M106 531.9h4.5M689.5 531.9h-4.5M106 526.1h10M689.5 526.1h-10M106 487.8h4.5M689.5 487.8h-4.5M106 465.3h4.5M689.5 465.3h-4.5M106 449.4h4.5M689.5 449.4h-4.5M106 437.1h4.5M689.5 437.1h-4.5M106 427h4.5M689.5 427h-4.5M106 418.5h4.5M689.5 418.5h-4.5M106 411.1h4.5M689.5 411.1h-4.5M106 404.6h4.5M689.5 404.6h-4.5M106 398.8h10M689.5 398.8h-10M106 360.4h4.5M689.5 360.4h-4.5M106 338h4.5M689.5 338h-4.5M106 322.1h4.5M689.5 322.1h-4.5M106 309.8h4.5M689.5 309.8h-4.5M106 299.7h4.5M689.5 299.7h-4.5M106 291.2h4.5M689.5 291.2h-4.5M106 283.8h4.5M689.5 283.8h-4.5M106 277.3h4.5M689.5 277.3h-4.5M106 271.4h10M689.5 271.4h-10M106 233.1h4.5M689.5 233.1h-4.5M106 210.7h4.5M689.5 210.7h-4.5M106 194.8h4.5M689.5 194.8h-4.5M106 182.4h4.5M689.5 182.4h-4.5M106 172.4h4.5M689.5 172.4h-4.5M106 163.8h4.5M689.5 163.8h-4.5M106 156.5h4.5M689.5 156.5h-4.5M106 149.9h4.5M689.5 149.9h-4.5M106 144.1h10M689.5 144.1h-10M106 105.8h4.5M689.5 105.8h-4.5M106 83.4h4.5M689.5 83.4h-4.5M106 67.5h4.5M689.5 67.5h-4.5M106 55.1h4.5M689.5 55.1h-4.5M106 45h4.5M689.5 45h-4.5M106 36.5h4.5M689.5 36.5h-4.5M106 29.1h4.5M689.5 29.1h-4.5M106 22.6h4.5M689.5 22.6h-4.5" stroke="#222" stroke-width="1.6" fill="none"/>
<rect x="106" y="16.8" width="583.5" height="636.6" fill="none" stroke="#222" stroke-width="1.7"/>
<text x="85" y="689" font-size="28" textLength="24.5" lengthAdjust="spacingAndGlyphs">10</text>
<text x="111" y="679" font-size="20">9</text>
<text x="225.9" y="689" font-size="28" textLength="24.5" lengthAdjust="spacingAndGlyphs">10</text>
<text x="251.9" y="679" font-size="20">10</text>
<text x="371.8" y="689" font-size="28" textLength="24.5" lengthAdjust="spacingAndGlyphs">10</text>
<text x="397.8" y="679" font-size="20">11</text>
<text x="517.7" y="689" font-size="28" textLength="24.5" lengthAdjust="spacingAndGlyphs">10</text>
<text x="543.7" y="679" font-size="20">12</text>
<text x="663.5" y="689" font-size="28" textLength="24.5" lengthAdjust="spacingAndGlyphs">10</text>
<text x="689.5" y="679" font-size="20">13</text>
<text x="88.4" y="653.1" font-size="20" text-anchor="end" textLength="23" lengthAdjust="spacingAndGlyphs">−2</text>
<text x="61.9" y="663.4" font-size="28" text-anchor="end" textLength="24.5" lengthAdjust="spacingAndGlyphs">10</text>
<text x="88.4" y="525.8" font-size="20" text-anchor="end" textLength="23" lengthAdjust="spacingAndGlyphs">−1</text>
<text x="61.9" y="536.1" font-size="28" text-anchor="end" textLength="24.5" lengthAdjust="spacingAndGlyphs">10</text>
<text x="89.2" y="398.5" font-size="20" text-anchor="end">0</text>
<text x="78.4" y="408.8" font-size="28" text-anchor="end" textLength="24.5" lengthAdjust="spacingAndGlyphs">10</text>
<text x="89.2" y="271.1" font-size="20" text-anchor="end">1</text>
<text x="78.4" y="281.4" font-size="28" text-anchor="end" textLength="24.5" lengthAdjust="spacingAndGlyphs">10</text>
<text x="89.2" y="143.8" font-size="20" text-anchor="end">2</text>
<text x="78.4" y="154.1" font-size="28" text-anchor="end" textLength="24.5" lengthAdjust="spacingAndGlyphs">10</text>
<text x="89.2" y="16.5" font-size="20" text-anchor="end">3</text>
<text x="78.4" y="26.8" font-size="28" text-anchor="end" textLength="24.5" lengthAdjust="spacingAndGlyphs">10</text>
<text x="317.8" y="721" font-size="28" textLength="156" lengthAdjust="spacingAndGlyphs"><tspan font-style="italic">M</tspan><tspan font-size="20" dy="4">halo</tspan><tspan dy="-4"> [</tspan><tspan font-style="italic">M</tspan><tspan font-size="19" dy="5">⊙</tspan><tspan dy="-5">/</tspan><tspan font-style="italic">h</tspan>]</text>
<text transform="translate(30.5 419.2) rotate(-90)" x="0" y="0" font-size="32" textLength="162" lengthAdjust="spacingAndGlyphs">sfr [<tspan font-style="italic">M</tspan><tspan font-size="19" dy="5">⊙</tspan><tspan dy="-5">/</tspan><tspan font-style="italic">h</tspan>/<tspan font-style="italic">yr</tspan>]</text>
<g clip-path="url(#c1)">
<g filter="url(#speck1)">
<g opacity="0.07" filter="url(#b1_0)"><path d="M830 640 C830 598.3 823.3 435 830 400 C836.7 365 855 421.7 870 430 C885 438.3 903.3 448.3 920 450 C936.7 451.7 955 445 970 440 C985 435 998.3 427.5 1010 420 C1021.7 412.5 1030 405 1040 395 C1050 385 1060 372.5 1070 360 C1080 347.5 1090 333.3 1100 320 C1110 306.7 1120 283.3 1130 280 C1140 276.7 1150 291.7 1160 300 C1170 308.3 1181.7 310 1190 330 C1198.3 350 1210.8 395 1210 420 C1209.2 445 1193.3 460 1185 480 C1176.7 500 1169.2 520 1160 540 C1150.8 560 1138.3 581.7 1130 600 C1121.7 618.3 1160 641.7 1110 650 C1060 658.3 876.7 651.7 830 650 C783.3 648.3 830 681.7 830 640Z" fill="#000"/></g>
<g opacity="0.06" filter="url(#b1_1)"><path d="M828 420 C835 395 854.7 428.3 870 430 C885.3 431.7 905 432.5 920 430 C935 427.5 946.7 420.8 960 415 C973.3 409.2 986.7 402.5 1000 395 C1013.3 387.5 1028.3 379.2 1040 370 C1051.7 360.8 1063.3 335 1070 340 C1076.7 345 1091.7 373.3 1080 400 C1068.3 426.7 1030 473.3 1000 500 C970 526.7 928.7 546.7 900 560 C871.3 573.3 840 603.3 828 580 C816 556.7 821 445 828 420Z" fill="#000"/></g>
<g opacity="0.2" filter="url(#b1_2)"><path d="M828 490 C833.3 469.7 848 489.3 860 488 C872 486.7 886.7 485 900 482 C913.3 479 927.5 475 940 470 C952.5 465 964.2 458.3 975 452 C985.8 445.7 995.8 439 1005 432 C1014.2 425 1022.5 416.2 1030 410 C1037.5 403.8 1048.3 386.7 1050 395 C1051.7 403.3 1048.3 439.2 1040 460 C1031.7 480.8 1018.3 501.7 1000 520 C981.7 538.3 950 556.7 930 570 C910 583.3 897 593.3 880 600 C863 606.7 836.7 628.3 828 610 C819.3 591.7 822.7 510.3 828 490Z" fill="#000"/></g>
<g opacity="0.2" filter="url(#b1_3)"><path d="M1201.6 250 C1190.1 247.5 1207.6 240 1210.7 235 C1213.8 230 1216.9 225 1220.1 220 C1223.3 215 1226.5 210 1229.8 205 C1233 200 1236.4 195 1239.8 190 C1243.3 185 1246.8 180 1250.4 175 C1254 170 1257.7 165 1261.6 160 C1265.4 155 1269.3 150 1273.3 145 C1277.2 140 1281.3 135 1285.4 130 C1289.5 125 1293.7 120 1298 115 C1302.2 110 1306.5 105 1310.8 100 C1315.1 95 1319.5 90 1323.8 85 C1328.2 80 1332.5 75 1336.9 70 C1341.3 65 1341.4 61.7 1349.9 55 C1358.4 48.3 1378.1 30 1388 30 C1397.8 30 1407.3 48.3 1409.1 55 C1410.8 61.7 1402.1 65 1398.6 70 C1395 75 1391.4 80 1387.9 85 C1384.3 90 1380.7 95 1377.1 100 C1373.5 105 1369.9 110 1366.5 115 C1363 120 1359.5 125 1356.1 130 C1352.7 135 1349.4 140 1346.1 145 C1342.8 150 1339.6 155 1336.4 160 C1333.2 165 1330 170 1326.8 175 C1323.7 180 1320.6 185 1317.5 190 C1314.4 195 1311.2 200 1308.1 205 C1304.9 210 1301.8 215 1298.6 220 C1295.4 225 1292.1 230 1288.9 235 C1285.7 240 1293.8 247.5 1279.3 250 C1264.7 252.5 1213 252.5 1201.6 250Z" fill="#000"/></g>
<g opacity="0.42" filter="url(#b1_4)"><path d="M830 700 C791.7 677.7 826.7 587.8 830 566 C833.3 544.2 843.8 568 850 569 C856.2 570 862 571.8 867 572 C872 572.2 875.5 571 880 570 C884.5 569 888.8 568.2 894 566 C899.2 563.8 905.3 560.3 911 557 C916.7 553.7 921.8 549.8 928 546 C934.2 542.2 941.3 538 948 534 C954.7 530 961.5 526 968 522 C974.5 518 980.3 514.8 987 510 C993.7 505.2 1001.2 498.8 1008 493 C1014.8 487.2 1022.2 480.5 1028 475 C1033.8 469.5 1038.2 465 1043 460 C1047.8 455 1052.2 450.2 1057 445 C1061.8 439.8 1067 434.3 1072 429 C1077 423.7 1081.2 418.7 1087 413 C1092.8 407.3 1101.8 400.5 1106.8 395 C1111.9 389.5 1113.7 385 1117.2 380 C1120.6 375 1124.1 370 1127.5 365 C1130.9 360 1134.3 355 1137.7 350 C1141 345 1144.2 340 1147.7 335 C1151.2 330 1154.9 325 1158.6 320 C1162.3 315 1166.1 310 1169.7 305 C1173.4 300 1176.9 295 1180.4 290 C1184 285 1187.4 280 1190.9 275 C1194.3 270 1197.8 265 1201.2 260 C1204.7 255 1208.1 250 1211.6 245 C1215.1 240 1218.7 235 1222.3 230 C1225.9 225 1229.6 220 1233.4 215 C1237.2 210 1239.8 206.2 1245 200 C1250.1 193.8 1258 182.7 1264.1 178 C1270.2 173.3 1277.5 172.3 1281.8 172 C1286.2 171.7 1292.7 171.3 1290.1 176 C1287.5 180.7 1271.1 193.5 1266.1 200 C1261.2 206.5 1262.4 210 1260.5 215 C1258.6 220 1256.6 225 1254.7 230 C1252.7 235 1250.8 240 1248.8 245 C1246.9 250 1244.9 255 1243 260 C1241.1 265 1239.2 270 1237.3 275 C1235.5 280 1233.6 285 1231.8 290 C1230 295 1228.2 300 1226.4 305 C1224.6 310 1223.1 315 1221.2 320 C1219.2 325 1217.3 330 1214.6 335 C1212 340 1208.4 345 1205.3 350 C1202.2 355 1199.1 360 1196.1 365 C1193 370 1190 375 1187 380 C1184 385 1180.8 390 1178 395 C1175.3 400 1172.8 405 1170.4 410 C1168 415 1165.8 420 1163.5 425 C1161.3 430 1159 435 1156.8 440 C1154.5 445 1152.9 447.4 1150.1 455 C1147.3 462.6 1144.4 475.2 1140.2 485.3 C1136 495.4 1130.1 504.8 1125.1 515.3 C1120.1 525.8 1114.1 539.1 1110.1 548.4 C1106.1 557.7 1104.3 562.7 1101 571 C1097.7 579.3 1094 588.8 1090.5 598 C1087 607.2 1084 617.2 1080.3 626.5 C1076.6 635.8 1071.7 641.2 1068.3 653.5 C1064.9 665.8 1099.7 692.2 1060 700 C1020.3 707.8 868.3 722.3 830 700Z" fill="#000" stroke="#000" stroke-width="22" stroke-linejoin="round"/></g>
<g opacity="0.8" filter="url(#b1_5)"><path d="M830 700 C791.7 677.7 826.7 587.8 830 566 C833.3 544.2 843.8 568 850 569 C856.2 570 862 571.8 867 572 C872 572.2 875.5 571 880 570 C884.5 569 888.8 568.2 894 566 C899.2 563.8 905.3 560.3 911 557 C916.7 553.7 921.8 549.8 928 546 C934.2 542.2 941.3 538 948 534 C954.7 530 961.5 526 968 522 C974.5 518 980.3 514.8 987 510 C993.7 505.2 1001.2 498.8 1008 493 C1014.8 487.2 1022.2 480.5 1028 475 C1033.8 469.5 1038.2 465 1043 460 C1047.8 455 1052.2 450.2 1057 445 C1061.8 439.8 1067 434.3 1072 429 C1077 423.7 1081.2 418.7 1087 413 C1092.8 407.3 1101.8 400.5 1106.8 395 C1111.9 389.5 1113.7 385 1117.2 380 C1120.6 375 1124.1 370 1127.5 365 C1130.9 360 1134.3 355 1137.7 350 C1141 345 1144.2 340 1147.7 335 C1151.2 330 1154.9 325 1158.6 320 C1162.3 315 1166.1 310 1169.7 305 C1173.4 300 1176.9 295 1180.4 290 C1184 285 1187.4 280 1190.9 275 C1194.3 270 1197.8 265 1201.2 260 C1204.7 255 1208.1 250 1211.6 245 C1215.1 240 1218.7 235 1222.3 230 C1225.9 225 1229.6 220 1233.4 215 C1237.2 210 1239.8 206.2 1245 200 C1250.1 193.8 1258 182.7 1264.1 178 C1270.2 173.3 1277.5 172.3 1281.8 172 C1286.2 171.7 1292.7 171.3 1290.1 176 C1287.5 180.7 1271.1 193.5 1266.1 200 C1261.2 206.5 1262.4 210 1260.5 215 C1258.6 220 1256.6 225 1254.7 230 C1252.7 235 1250.8 240 1248.8 245 C1246.9 250 1244.9 255 1243 260 C1241.1 265 1239.2 270 1237.3 275 C1235.5 280 1233.6 285 1231.8 290 C1230 295 1228.2 300 1226.4 305 C1224.6 310 1223.1 315 1221.2 320 C1219.2 325 1217.3 330 1214.6 335 C1212 340 1208.4 345 1205.3 350 C1202.2 355 1199.1 360 1196.1 365 C1193 370 1190 375 1187 380 C1184 385 1180.8 390 1178 395 C1175.3 400 1172.8 405 1170.4 410 C1168 415 1165.8 420 1163.5 425 C1161.3 430 1159 435 1156.8 440 C1154.5 445 1152.9 447.4 1150.1 455 C1147.3 462.6 1144.4 475.2 1140.2 485.3 C1136 495.4 1130.1 504.8 1125.1 515.3 C1120.1 525.8 1114.1 539.1 1110.1 548.4 C1106.1 557.7 1104.3 562.7 1101 571 C1097.7 579.3 1094 588.8 1090.5 598 C1087 607.2 1084 617.2 1080.3 626.5 C1076.6 635.8 1071.7 641.2 1068.3 653.5 C1064.9 665.8 1099.7 692.2 1060 700 C1020.3 707.8 868.3 722.3 830 700Z" fill="#000" stroke="#000" stroke-width="10" stroke-linejoin="round"/></g>
<g opacity="1.0" filter="url(#b1_6)"><path d="M830 700 C791.7 677.7 826.7 587.8 830 566 C833.3 544.2 843.8 568 850 569 C856.2 570 862 571.8 867 572 C872 572.2 875.5 571 880 570 C884.5 569 888.8 568.2 894 566 C899.2 563.8 905.3 560.3 911 557 C916.7 553.7 921.8 549.8 928 546 C934.2 542.2 941.3 538 948 534 C954.7 530 961.5 526 968 522 C974.5 518 980.3 514.8 987 510 C993.7 505.2 1001.2 498.8 1008 493 C1014.8 487.2 1022.2 480.5 1028 475 C1033.8 469.5 1038.2 465 1043 460 C1047.8 455 1052.2 450.2 1057 445 C1061.8 439.8 1067 434.3 1072 429 C1077 423.7 1081.2 418.7 1087 413 C1092.8 407.3 1101.8 400.5 1106.8 395 C1111.9 389.5 1113.7 385 1117.2 380 C1120.6 375 1124.1 370 1127.5 365 C1130.9 360 1134.3 355 1137.7 350 C1141 345 1144.2 340 1147.7 335 C1151.2 330 1154.9 325 1158.6 320 C1162.3 315 1166.1 310 1169.7 305 C1173.4 300 1176.9 295 1180.4 290 C1184 285 1187.4 280 1190.9 275 C1194.3 270 1197.8 265 1201.2 260 C1204.7 255 1208.1 250 1211.6 245 C1215.1 240 1218.7 235 1222.3 230 C1225.9 225 1229.6 220 1233.4 215 C1237.2 210 1239.8 206.2 1245 200 C1250.1 193.8 1258 182.7 1264.1 178 C1270.2 173.3 1277.5 172.3 1281.8 172 C1286.2 171.7 1292.7 171.3 1290.1 176 C1287.5 180.7 1271.1 193.5 1266.1 200 C1261.2 206.5 1262.4 210 1260.5 215 C1258.6 220 1256.6 225 1254.7 230 C1252.7 235 1250.8 240 1248.8 245 C1246.9 250 1244.9 255 1243 260 C1241.1 265 1239.2 270 1237.3 275 C1235.5 280 1233.6 285 1231.8 290 C1230 295 1228.2 300 1226.4 305 C1224.6 310 1223.1 315 1221.2 320 C1219.2 325 1217.3 330 1214.6 335 C1212 340 1208.4 345 1205.3 350 C1202.2 355 1199.1 360 1196.1 365 C1193 370 1190 375 1187 380 C1184 385 1180.8 390 1178 395 C1175.3 400 1172.8 405 1170.4 410 C1168 415 1165.8 420 1163.5 425 C1161.3 430 1159 435 1156.8 440 C1154.5 445 1152.9 447.4 1150.1 455 C1147.3 462.6 1144.4 475.2 1140.2 485.3 C1136 495.4 1130.1 504.8 1125.1 515.3 C1120.1 525.8 1114.1 539.1 1110.1 548.4 C1106.1 557.7 1104.3 562.7 1101 571 C1097.7 579.3 1094 588.8 1090.5 598 C1087 607.2 1084 617.2 1080.3 626.5 C1076.6 635.8 1071.7 641.2 1068.3 653.5 C1064.9 665.8 1099.7 692.2 1060 700 C1020.3 707.8 868.3 722.3 830 700Z" fill="#000"/></g>
</g>
<path d="M835 601.8 L837.4 604.7 L839.9 607.5 L842.4 610.1 L845 612.5 L847.5 614.8 L850.1 616.8 L852.7 618.8 L855.4 620.5 L858 622.1 L860.7 623.5 L863.3 624.8 L866 625.9 L868.7 626.9 L871.5 627.8 L874.2 628.5 L876.9 629 L879.7 629.5 L882.4 629.8 L885.2 630 L888 630 L890.8 630 L893.5 629.9 L896.3 629.6 L899.1 629.2 L901.9 628.8 L904.6 628.2 L907.4 627.6 L910.2 626.8 L913 626 L915.7 625.1 L918.5 624.1 L921.3 623.1 L924 622 L926.7 620.9 L929.5 619.6 L932.2 618.4 L934.9 617 L937.6 615.7 L940.3 614.3 L943 612.8 L945.7 611.3 L948.4 609.8 L951 608.3 L953.7 606.7 L956.3 605.1 L958.9 603.5 L961.5 601.9 L964.1 600.2 L966.7 598.5 L969.2 596.8 L971.7 595.1 L974.3 593.4 L976.8 591.7 L979.2 589.9 L981.7 588.1 L984.2 586.3 L986.6 584.5 L989 582.7 L991.4 580.8 L993.7 578.9 L996.1 577 L998.4 575.1 L1000.7 573.2 L1003 571.2 L1005.2 569.2 L1007.5 567.2 L1009.7 565.2 L1011.8 563.2 L1014 561.1 L1016.1 559 L1018.2 556.9 L1020.3 554.8 L1022.3 552.6 L1024.4 550.4 L1026.3 548.2 L1028.3 546 L1030.2 543.7 L1032.2 541.4 L1034 539.2 L1035.9 536.8 L1037.7 534.5 L1039.6 532.2 L1041.4 529.8 L1043.2 527.4 L1044.9 525 L1046.7 522.6 L1048.4 520.2 L1050.2 517.7 L1051.9 515.3 L1053.6 512.9 L1055.3 510.4 L1057 507.9 L1058.7 505.5 L1060.3 503 L1062 500.5 L1063.7 498 L1065.4 495.5 L1067 493 L1068.7 490.5 L1070.4 488 L1072.1 485.6 L1073.8 483.1 L1075.4 480.6 L1077.1 478.1 L1078.8 475.6 L1080.5 473.1 L1082.2 470.6 L1083.9 468.2 L1085.6 465.7 L1087.3 463.2 L1089 460.7 L1090.7 458.2 L1092.4 455.7 L1094.1 453.2 L1095.8 450.7 L1097.5 448.3 L1099.2 445.8 L1100.9 443.3 L1102.6 440.8 L1104.3 438.3 L1105.9 435.8 L1107.6 433.3 L1109.3 430.8 L1111 428.3 L1112.7 425.8 L1114.4 423.3 L1116.1 420.8 L1117.8 418.3 L1119.5 415.8 L1121.1 413.3 L1122.8 410.8 L1124.5 408.3 L1126.2 405.8 L1127.8 403.3 L1129.5 400.8 L1131.1 398.2 L1132.8 395.7 L1134.5 393.2 L1136.1 390.7 L1137.8 388.1 L1139.4 385.6 L1141 383.1 L1142.7 380.5 L1144.3 378 L1145.9 375.5 L1147.5 372.9 L1149.2 370.4 L1150.8 367.8 L1152.4 365.3 L1154 362.7 L1155.6 360.1 L1157.1 357.6 L1158.7 355 L1160.3 352.4 L1161.9 349.9 L1163.4 347.3 L1165 344.7 L1166.5 342.1 L1168.1 339.5 L1169.6 336.9 L1171.1 334.3 L1172.7 331.7 L1174.2 329.1 L1175.7 326.5 L1177.2 323.9 L1178.7 321.3 L1180.2 318.7 L1181.8 316.1 L1183.3 313.5 L1184.8 310.9 L1186.3 308.3 L1187.7 305.6 L1189.2 303 L1190.7 300.4 L1192.2 297.8 L1193.7 295.2 L1195.2 292.5 L1196.7 289.9 L1198.2 287.3 L1199.7 284.7 L1201.1 282.1 L1202.6 279.4 L1204.1 276.8 L1205.6 274.2 L1207.1 271.6 L1208.6 269 L1210.1 266.3 L1211.6 263.7 L1213.1 261.1 L1214.6 258.5 L1216.1 255.9 L1217.6 253.3 L1219.1 250.7 L1220.6 248.1 L1222.1 245.5 L1223.6 242.9 L1225.1 240.3 L1226.7 237.7 L1228.2 235.1 L1229.7 232.5 L1231.3 229.9 L1232.8 227.4 L1234.4 224.8 L1235.9 222.2 L1237.5 219.7 L1239 217.1 L1240.6 214.5 L1242.2 212 L1243.8 209.4 L1245.4 206.9 L1247 204.4 L1248.6 201.8 L1250.2 199.3 L1251.8 196.8 L1253.5 194.3 L1255.1 191.8 L1256.8 189.2 L1258.4 186.8 L1260.1 184.3 L1261.8 181.8 L1263.5 179.3 L1265.2 176.8 L1266.9 174.4 L1268.6 171.9 L1270.3 169.5 L1272.1 167 L1273.8 164.6 L1275.6 162.1 L1277.4 159.7 L1279.2 157.3 L1280.9 154.9 L1282.7 152.5 L1284.5 150.1 L1286.4 147.7 L1288.2 145.3 L1290 142.9 L1291.9 140.5 L1293.7 138.1 L1295.5 135.8 L1297.4 133.4 L1299.3 131 L1301.1 128.7 L1303 126.3 L1304.9 124 L1306.8 121.6 L1308.7 119.3 L1310.6 116.9 L1312.5 114.6 L1314.4 112.3 L1316.3 109.9 L1318.2 107.6 L1320.1 105.3 L1322 103 L1323.9 100.6 L1325.9 98.3 L1327.8 96 L1329.7 93.7 L1331.7 91.4 L1333.6 89.1 L1335.5 86.8 L1337.5 84.5 L1339.4 82.1 L1341.4 79.8 L1343.3 77.5 L1345.2 75.2 L1347.2 72.9 L1349.1 70.6 L1351.1 68.3 L1353 66 L1354.9 63.7 L1356.9 61.4 L1358.8 59.1 L1360.7 56.8 L1362.7 54.5 L1364.6 52.2 L1366.5 49.8 L1368.5 47.5 L1370.4 45.2 L1372.3 42.9 L1374.2 40.6 L1376.1 38.3 L1378 36 L1379.9 33.6 L1381.8 31.3 L1383.7 29 L1385.6 26.6 L1387.5 24.3 L1389.4 22 L1391.3 19.6 L1393.1 17.3 L1395 14.9 L1396.9 12.6 L1401.9 12.6 L1428.9 17.9 L1423.9 17.9 L1422.2 20.4 L1420.5 22.9 L1418.8 25.4 L1417.1 27.9 L1415.4 30.4 L1413.7 32.9 L1412 35.4 L1410.2 37.9 L1408.5 40.4 L1406.8 42.8 L1405 45.3 L1403.2 47.8 L1401.5 50.2 L1399.7 52.7 L1398 55.1 L1396.2 57.6 L1394.4 60 L1392.6 62.5 L1390.9 64.9 L1389.1 67.3 L1387.3 69.8 L1385.5 72.2 L1383.7 74.6 L1381.9 77.1 L1380.1 79.5 L1378.3 81.9 L1376.6 84.4 L1374.8 86.8 L1373 89.2 L1371.2 91.6 L1369.4 94.1 L1367.6 96.5 L1365.8 98.9 L1364 101.3 L1362.3 103.8 L1360.5 106.2 L1358.7 108.6 L1356.9 111.1 L1355.1 113.5 L1353.4 115.9 L1351.6 118.4 L1349.8 120.8 L1348.1 123.3 L1346.3 125.7 L1344.6 128.2 L1342.8 130.6 L1341.1 133.1 L1339.3 135.5 L1337.6 138 L1335.9 140.4 L1334.1 142.9 L1332.4 145.3 L1330.7 147.8 L1328.9 150.3 L1327.2 152.7 L1325.5 155.2 L1323.8 157.7 L1322.1 160.1 L1320.3 162.6 L1318.6 165.1 L1316.9 167.5 L1315.2 170 L1313.5 172.5 L1311.8 175 L1310.1 177.4 L1308.4 179.9 L1306.7 182.4 L1304.9 184.9 L1303.2 187.3 L1301.5 189.8 L1299.8 192.3 L1298.1 194.8 L1296.4 197.3 L1294.7 199.7 L1293 202.2 L1291.3 204.7 L1289.7 207.2 L1288 209.7 L1286.3 212.2 L1284.6 214.6 L1282.9 217.1 L1281.2 219.6 L1279.5 222.1 L1277.8 224.6 L1276.2 227.1 L1274.5 229.6 L1272.8 232.1 L1271.1 234.6 L1269.5 237.1 L1267.8 239.6 L1266.1 242.1 L1264.4 244.6 L1262.8 247.1 L1261.1 249.6 L1259.4 252.1 L1257.8 254.6 L1256.1 257.1 L1254.5 259.6 L1252.8 262.2 L1251.1 264.7 L1249.5 267.2 L1247.8 269.7 L1246.2 272.2 L1244.5 274.7 L1242.9 277.3 L1241.3 279.8 L1239.6 282.3 L1238 284.8 L1236.3 287.4 L1234.7 289.9 L1233.1 292.4 L1231.4 295 L1229.8 297.5 L1228.2 300 L1226.6 302.6 L1224.9 305.1 L1223.3 307.6 L1221.7 310.2 L1220.1 312.7 L1218.5 315.3 L1216.9 317.8 L1215.2 320.4 L1213.6 322.9 L1212 325.5 L1210.4 328 L1208.8 330.6 L1207.2 333.1 L1205.6 335.7 L1204 338.2 L1202.4 340.8 L1200.9 343.3 L1199.3 345.9 L1197.7 348.5 L1196.1 351 L1194.5 353.6 L1192.9 356.2 L1191.4 358.7 L1189.8 361.3 L1188.2 363.9 L1186.6 366.5 L1185.1 369 L1183.5 371.6 L1181.9 374.2 L1180.4 376.8 L1178.8 379.4 L1177.3 381.9 L1175.7 384.5 L1174.2 387.1 L1172.6 389.7 L1171.1 392.3 L1169.5 394.9 L1168 397.5 L1166.4 400.1 L1164.9 402.7 L1163.4 405.3 L1161.8 407.9 L1160.3 410.5 L1158.8 413.1 L1157.3 415.7 L1155.7 418.3 L1154.2 420.9 L1152.7 423.5 L1151.2 426.1 L1149.7 428.7 L1148.2 431.3 L1146.7 433.9 L1145.2 436.5 L1143.7 439.2 L1142.2 441.8 L1140.7 444.4 L1139.2 447 L1137.7 449.7 L1136.2 452.3 L1134.7 454.9 L1133.2 457.5 L1131.7 460.2 L1130.3 462.8 L1128.8 465.4 L1127.3 468.1 L1125.8 470.7 L1124.4 473.3 L1122.9 476 L1121.5 478.6 L1120 481.3 L1118.5 483.9 L1117.1 486.6 L1115.6 489.2 L1114.2 491.9 L1112.7 494.5 L1111.3 497.2 L1109.9 499.8 L1108.4 502.5 L1107 505.1 L1105.6 507.8 L1104.1 510.4 L1102.7 513.1 L1101.3 515.8 L1099.9 518.4 L1098.4 521.1 L1097 523.8 L1095.6 526.4 L1094.2 529.1 L1092.8 531.8 L1091.4 534.5 L1090 537.1 L1088.6 539.8 L1087.2 542.5 L1085.8 545.2 L1084.4 547.9 L1083.1 550.6 L1081.7 553.2 L1080.3 555.9 L1078.9 558.6 L1077.6 561.3 L1076.2 564 L1074.8 566.7 L1073.5 569.4 L1072.1 572.1 L1070.8 574.8 L1069.4 577.5 L1068 580.2 L1066.7 582.9 L1065.4 585.6 L1064 588.3 L1062.7 591 L1061.3 593.7 L1060 596.5 L1058.7 599.2 L1057.4 601.9 L1056 604.6 L1054.7 607.3 L1053.4 610.1 L1052.1 612.8 L1050.8 615.5 L1049.5 618.2 L1048.2 621 L1046.9 623.7 L1045.6 626.4 L1044.3 629.2 L1043 631.9 L1041.7 634.6 L1040.4 637.4 L1039.2 640.1 L1037.9 642.8 L1036.6 645.6 L1035.3 648.3 L1034.1 651.1 L1032.8 653.8 L1032.8 720 L825.4 720 L825.4 601.8Z" fill="#00ffff" fill-opacity="0.5" stroke="#00ffff" stroke-opacity="0.5" stroke-width="1.3"/>
<path d="M932.3 660.4 L933.5 657.5 L934.6 654.6 L935.8 651.8 L936.9 648.9 L938.1 646.1 L939.3 643.2 L940.5 640.4 L941.6 637.5 L942.8 634.7 L944 631.9 L945.2 629.1 L946.4 626.3 L947.6 623.4 L948.8 620.6 L950 617.8 L951.2 615.1 L952.4 612.3 L953.7 609.5 L954.9 606.7 L956.1 603.9 L957.3 601.2 L958.6 598.4 L959.8 595.6 L961 592.9 L962.3 590.1 L963.5 587.4 L964.8 584.6 L966 581.9 L967.3 579.1 L968.5 576.4 L969.8 573.7 L971 570.9 L972.3 568.2 L973.6 565.5 L974.8 562.8 L976.1 560 L977.4 557.3 L978.6 554.6 L979.9 551.9 L981.2 549.2 L982.5 546.5 L983.8 543.8 L985.1 541.1 L986.3 538.4 L987.6 535.7 L988.9 533 L990.2 530.3 L991.5 527.6 L992.8 524.9 L994.1 522.2 L995.4 519.5 L996.7 516.8 L998 514.1 L999.3 511.4 L1000.6 508.7 L1001.9 506 L1003.3 503.3 L1004.6 500.7 L1005.9 498 L1007.2 495.3 L1008.5 492.6 L1009.8 489.9 L1011.1 487.2 L1012.5 484.5 L1013.8 481.8 L1015.1 479.1 L1016.4 476.5 L1017.7 473.8 L1019.1 471.1 L1020.4 468.4 L1021.7 465.7 L1023.1 463 L1024.4 460.3 L1025.7 457.6 L1027 454.9 L1028.4 452.2 L1029.7 449.5 L1031 446.8 L1032.4 444.1 L1033.7 441.4 L1035 438.7 L1036.3 436 L1037.7 433.3 L1039 430.6 L1040.3 427.8 L1041.7 425.1 L1043 422.4 L1044.3 419.7 L1045.7 417 L1047 414.2 L1048.3 411.5 L1049.7 408.8 L1051 406 L1052.3 403.3 L1053.7 400.6 L1055 397.8 L1056.3 395.1 L1057.7 392.3 L1059 389.6 L1060.4 386.9 L1061.8 384.1 L1063.1 381.4 L1064.5 378.7 L1065.9 376 L1067.2 373.2 L1068.6 370.5 L1070 367.8 L1071.4 365.1 L1072.8 362.4 L1074.2 359.7 L1075.6 356.9 L1077.1 354.3 L1078.5 351.6 L1080 348.9 L1081.4 346.2 L1082.9 343.5 L1084.3 340.8 L1085.8 338.2 L1087.3 335.5 L1088.8 332.9 L1090.3 330.2 L1091.9 327.6 L1093.4 325 L1095 322.4 L1096.5 319.8 L1098.1 317.2 L1099.7 314.6 L1101.3 312 L1102.9 309.4 L1104.5 306.9 L1106.2 304.3 L1107.9 301.8 L1109.5 299.3 L1111.2 296.8 L1112.9 294.3 L1114.7 291.8 L1116.4 289.3 L1118.2 286.9 L1120 284.4 L1121.8 282 L1123.6 279.6 L1125.4 277.2 L1127.3 274.8 L1129.1 272.4 L1131 270.1 L1132.9 267.7 L1134.9 265.4 L1136.8 263.1 L1138.8 260.8 L1140.8 258.5 L1142.8 256.3 L1144.8 254 L1146.9 251.8 L1149 249.6 L1151.1 247.4 L1153.2 245.3 L1155.4 243.1 L1157.6 241 L1159.8 238.9 L1162 236.9 L1164.2 234.8 L1166.5 232.8 L1168.8 230.8 L1171.1 228.8 L1173.4 226.9 L1175.7 225 L1178.1 223.1 L1180.5 221.3 L1182.9 219.5 L1185.3 217.7 L1187.8 216 L1190.2 214.3 L1192.7 212.6 L1195.2 211 L1197.8 209.4 L1200.3 207.9 L1202.9 206.4 L1205.4 204.9 L1208 203.5 L1210.6 202.1 L1213.3 200.8 L1215.9 199.5 L1218.6 198.3 L1221.3 197.1 L1224 195.9 L1226.7 194.8 L1229.4 193.8 L1232.2 192.8 L1234.9 191.9 L1237.7 191 L1240.5 190.2 L1243.3 189.4 L1246.1 188.7 L1249 188.1 L1251.8 187.5 L1254.7 186.9 L1257.6 186.5 L1260.5 186.1 L1263.4 185.7 L1266.3 185.4 L1269.3 185.2 L1272.2 185 L1275.2 184.8 L1278.1 184.7 L1281.1 184.7 L1284.1 184.7 L1287.1 184.8 L1290 184.9 L1293 185.1 L1296.1 185.3 L1299.1 185.5 L1302.1 185.8 L1305.1 186.2 L1308.1 186.6 L1311.1 187 L1314.1 187.5 L1317.2 188 L1320.2 188.5 L1323.2 189.1 L1326.2 189.7 L1329.3 190.4 L1332.3 191.1 L1335.3 191.8 L1338.3 192.6 L1341.3 193.4 L1344.3 194.2 L1347.3 195.1 L1350.3 196 L1353.3 196.9 L1356.2 197.8 L1359.2 198.8 L1362.1 199.8 L1365.1 200.8 L1368 201.9 L1371 202.9 L1373.9 204 L1376.8 205.1 L1379.6 206.3 L1382.5 207.4 L1385.4 208.6 L1388.2 209.8 L1391 211 L1393.9 212.2 L1396.6 213.4 L1399.4 214.6 L1402.2 215.9 L1404.9 217.2 L1407.6 218.4 L1410.3 219.7 L1413 221 L1415.7 222.3 L1418.3 223.6" fill="none" stroke="#00ff00" stroke-width="6.0" stroke-linejoin="round"/>
<path d="M926.6 658.8 L927.8 656.2 L928.9 653.6 L930.1 651 L931.2 648.4 L932.4 645.8 L933.5 643.2 L934.7 640.6 L935.8 637.9 L937 635.3 L938.2 632.7 L939.3 630 L940.5 627.4 L941.7 624.7 L942.8 622 L944 619.4 L945.2 616.7 L946.4 614 L947.5 611.4 L948.7 608.7 L949.9 606 L951.1 603.3 L952.3 600.6 L953.5 597.9 L954.7 595.2 L955.9 592.5 L957.1 589.8 L958.3 587.1 L959.5 584.4 L960.7 581.7 L961.9 578.9 L963.1 576.2 L964.3 573.5 L965.6 570.8 L966.8 568 L968 565.3 L969.3 562.6 L970.5 559.8 L971.7 557.1 L973 554.3 L974.2 551.6 L975.5 548.9 L976.8 546.1 L978 543.4 L979.3 540.6 L980.6 537.9 L981.8 535.1 L983.1 532.4 L984.4 529.6 L985.7 526.9 L987 524.1 L988.3 521.4 L989.6 518.6 L990.9 515.9 L992.2 513.2 L993.5 510.4 L994.8 507.7 L996.1 504.9 L997.5 502.2 L998.8 499.4 L1000.2 496.7 L1001.5 493.9 L1002.9 491.2 L1004.2 488.4 L1005.6 485.7 L1006.9 483 L1008.3 480.2 L1009.7 477.5 L1011.1 474.8 L1012.5 472 L1013.9 469.3 L1015.3 466.6 L1016.7 463.9 L1018.1 461.2 L1019.5 458.4 L1020.9 455.7 L1022.4 453 L1023.8 450.3 L1025.3 447.6 L1026.7 444.9 L1028.2 442.2 L1029.6 439.5 L1031.1 436.8 L1032.6 434.1 L1034.1 431.5 L1035.6 428.8 L1037.1 426.1 L1038.6 423.5 L1040.1 420.8 L1041.6 418.1 L1043.1 415.5 L1044.7 412.8 L1046.2 410.2 L1047.8 407.6 L1049.3 404.9 L1050.9 402.3 L1052.5 399.7 L1054 397.1 L1055.6 394.4 L1057.2 391.8 L1058.8 389.2 L1060.4 386.7 L1062.1 384.1 L1063.7 381.5 L1065.3 378.9 L1067 376.4 L1068.6 373.8 L1070.3 371.3 L1072 368.7 L1073.6 366.2 L1075.3 363.6 L1077 361.1 L1078.7 358.6 L1080.4 356.1 L1082.1 353.6 L1083.9 351.1 L1085.6 348.6 L1087.4 346.2 L1089.1 343.7 L1090.9 341.3 L1092.7 338.8 L1094.4 336.4 L1096.2 333.9 L1098 331.5 L1099.9 329.1 L1101.7 326.7 L1103.5 324.3 L1105.3 321.9 L1107.2 319.6 L1109.1 317.2 L1110.9 314.9 L1112.8 312.5 L1114.7 310.2 L1116.6 307.9 L1118.5 305.5 L1120.4 303.2 L1122.4 301 L1124.3 298.7 L1126.3 296.4 L1128.2 294.2 L1130.2 291.9 L1132.2 289.7 L1134.2 287.5 L1136.2 285.2 L1138.2 283 L1140.2 280.9 L1142.2 278.7 L1144.3 276.5 L1146.3 274.4 L1148.4 272.2 L1150.5 270.1 L1152.6 268 L1154.7 265.9 L1156.8 263.8 L1158.9 261.7 L1161.1 259.7 L1163.2 257.6 L1165.4 255.6 L1167.6 253.6 L1169.7 251.6 L1171.9 249.6 L1174.1 247.6 L1176.4 245.7 L1178.6 243.7 L1180.8 241.8 L1183.1 239.9 L1185.3 238 L1187.6 236.1 L1189.9 234.2 L1192.2 232.4 L1194.5 230.5 L1196.8 228.7 L1199.2 226.9 L1201.5 225.1 L1203.9 223.3 L1206.2 221.6 L1208.6 219.8 L1211 218.1 L1213.4 216.4 L1215.8 214.7 L1218.2 213 L1220.7 211.4 L1223.1 209.8 L1225.6 208.1 L1228.1 206.5 L1230.5 205 L1233 203.4 L1235.5 201.9 L1238.1 200.3 L1240.6 198.8 L1243.1 197.3 L1245.7 195.9 L1248.3 194.4 L1250.8 193 L1253.4 191.6 L1256 190.2 L1258.7 188.8 L1261.3 187.5 L1263.9 186.2 L1266.6 184.9 L1269.2 183.6 L1271.9 182.3 L1274.6 181.1 L1277.3 179.9 L1280 178.7 L1282.7 177.5 L1285.5 176.3 L1288.2 175.2 L1291 174.1 L1293.8 173 L1296.5 172 L1299.3 170.9 L1302.1 169.9 L1305 168.9 L1307.8 167.9 L1310.6 167 L1313.5 166.1 L1316.4 165.2 L1319.3 164.3 L1322.2 163.4 L1325.1 162.6 L1328 161.8 L1330.9 161 L1333.9 160.3 L1336.8 159.5 L1339.8 158.8 L1342.8 158.1 L1345.8 157.5 L1348.8 156.9 L1351.8 156.3 L1354.8 155.7 L1357.9 155.1 L1360.9 154.6 L1364 154.1 L1367.1 153.6 L1370.2 153.2 L1373.3 152.8 L1376.4 152.4 L1379.6 152 L1382.7 151.7 L1385.9 151.4 L1389 151.1 L1392.2 150.9 L1395.4 150.6 L1398.6 150.4 L1401.9 150.3 L1405.1 150.1 L1408.3 150 L1411.6 150 L1414.9 149.9 L1418.2 149.9 L1421.5 149.9" fill="none" stroke="#0000cd" stroke-width="6.0" stroke-linejoin="round"/>
<path d="M984.2 662.1 L985.7 659.5 L987.2 656.9 L988.7 654.2 L990.3 651.6 L991.8 649 L993.3 646.4 L994.8 643.8 L996.4 641.2 L997.9 638.5 L999.4 635.9 L1000.9 633.3 L1002.5 630.7 L1004 628.1 L1005.5 625.5 L1007.1 622.9 L1008.6 620.3 L1010.1 617.6 L1011.7 615 L1013.2 612.4 L1014.8 609.8 L1016.3 607.2 L1017.8 604.6 L1019.4 602 L1020.9 599.4 L1022.5 596.8 L1024 594.2 L1025.6 591.6 L1027.1 589 L1028.6 586.3 L1030.2 583.7 L1031.7 581.1 L1033.3 578.5 L1034.8 575.9 L1036.4 573.3 L1037.9 570.7 L1039.5 568.1 L1041 565.5 L1042.6 562.9 L1044.1 560.3 L1045.7 557.7 L1047.2 555.1 L1048.8 552.5 L1050.3 549.9 L1051.9 547.3 L1053.4 544.7 L1055 542.1 L1056.5 539.5 L1058.1 536.9 L1059.6 534.3 L1061.2 531.7 L1062.7 529.1 L1064.3 526.5 L1065.9 523.9 L1067.4 521.3 L1069 518.7 L1070.5 516.1 L1072.1 513.5 L1073.6 510.9 L1075.2 508.3 L1076.7 505.7 L1078.3 503.1 L1079.8 500.5 L1081.4 497.9 L1082.9 495.3 L1084.5 492.7 L1086 490.1 L1087.6 487.5 L1089.1 484.9 L1090.7 482.3 L1092.2 479.7 L1093.8 477.1 L1095.3 474.5 L1096.9 471.8 L1098.4 469.2 L1100 466.6 L1101.5 464 L1103.1 461.4 L1104.6 458.8 L1106.2 456.2 L1107.7 453.6 L1109.3 451 L1110.8 448.4 L1112.4 445.8 L1113.9 443.2 L1115.5 440.6 L1117 438 L1118.5 435.4 L1120.1 432.8 L1121.6 430.2 L1123.2 427.6 L1124.7 425 L1126.2 422.3 L1127.8 419.7 L1129.3 417.1 L1130.9 414.5 L1132.4 411.9 L1133.9 409.3 L1135.5 406.7 L1137 404.1 L1138.5 401.5 L1140.1 398.8 L1141.6 396.2 L1143.1 393.6 L1144.6 391 L1146.2 388.4 L1147.7 385.8 L1149.2 383.2 L1150.7 380.5 L1152.3 377.9 L1153.8 375.3 L1155.3 372.7 L1156.8 370.1 L1158.3 367.4 L1159.8 364.8 L1161.4 362.2 L1162.9 359.6 L1164.4 356.9 L1165.9 354.3 L1167.4 351.7 L1168.9 349.1 L1170.4 346.4 L1171.9 343.8 L1173.4 341.2 L1174.9 338.6 L1176.4 335.9 L1177.9 333.3 L1179.4 330.7 L1180.9 328 L1182.4 325.4 L1183.9 322.8 L1185.4 320.1 L1186.9 317.5 L1188.4 314.9 L1189.8 312.2 L1191.3 309.6 L1192.8 306.9 L1194.3 304.3 L1195.8 301.7 L1197.2 299 L1198.7 296.4 L1200.2 293.7 L1201.6 291.1 L1203.1 288.4 L1204.6 285.8 L1206 283.1 L1207.5 280.5 L1209 277.8 L1210.4 275.2 L1211.9 272.5 L1213.3 269.9 L1214.8 267.2 L1216.2 264.6 L1217.7 261.9 L1219.1 259.2 L1220.6 256.6 L1222 253.9 L1223.4 251.3 L1224.9 248.6 L1226.3 245.9 L1227.7 243.3 L1229.2 240.6 L1230.6 237.9 L1232 235.3 L1233.4 232.6 L1234.9 229.9 L1236.3 227.2 L1237.7 224.6 L1239.1 221.9 L1240.5 219.2 L1241.9 216.5 L1243.3 213.8 L1244.7 211.2 L1246.1 208.5 L1247.5 205.8 L1248.9 203.1 L1250.3 200.4 L1251.7 197.7 L1253.1 195 L1254.4 192.3 L1255.8 189.6 L1257.2 186.9 L1258.6 184.2 L1259.9 181.5 L1261.3 178.8 L1262.7 176.1 L1264 173.4 L1265.4 170.7 L1266.7 168 L1268.1 165.3 L1269.4 162.6 L1270.8 159.9 L1272.1 157.2 L1273.5 154.4 L1282.9 151.8 L1289 149.3 L1295.2 143.2 L1302.5 137 L1309.9 134.6 L1328.4 128.4 L1350 124.8 L1363.6 122.3 L1392.7 120.3 L1419 119.4 L1425 119.3" fill="none" stroke="#ffa500" stroke-width="6.0" stroke-linejoin="round"/>
<path d="M929.5 656.5 L932.8 656.1 L936.1 655.6 L939.3 655.1 L942.4 654.5 L945.5 653.8 L948.6 653.1 L951.6 652.2 L954.5 651.3 L957.4 650.4 L960.3 649.4 L963.1 648.3 L965.9 647.1 L968.7 645.9 L971.4 644.6 L974 643.3 L976.6 641.9 L979.2 640.4 L981.8 638.9 L984.3 637.4 L986.7 635.8 L989.2 634.1 L991.6 632.5 L993.9 630.7 L996.3 628.9 L998.6 627.1 L1000.8 625.2 L1003.1 623.3 L1005.3 621.4 L1007.5 619.4 L1009.6 617.4 L1011.7 615.3 L1013.8 613.2 L1015.9 611.1 L1017.9 609 L1020 606.8 L1022 604.6 L1023.9 602.4 L1025.9 600.2 L1027.8 597.9 L1029.7 595.6 L1031.6 593.3 L1033.5 591 L1035.4 588.7 L1037.2 586.3 L1039 584 L1040.8 581.6 L1042.6 579.2 L1044.4 576.8 L1046.2 574.4 L1047.9 572 L1049.6 569.6 L1051.3 567.1 L1053 564.7 L1054.7 562.2 L1056.4 559.7 L1058.1 557.2 L1059.7 554.7 L1061.3 552.2 L1063 549.7 L1064.6 547.2 L1066.2 544.7 L1067.8 542.1 L1069.3 539.6 L1070.9 537 L1072.5 534.4 L1074 531.9 L1075.6 529.3 L1077.1 526.7 L1078.6 524.1 L1080.1 521.5 L1081.6 518.9 L1083.1 516.2 L1084.6 513.6 L1086.1 511 L1087.5 508.3 L1089 505.7 L1090.5 503 L1091.9 500.4 L1093.4 497.7 L1094.8 495.1 L1096.3 492.4 L1097.7 489.7 L1099.1 487.1 L1100.5 484.4 L1102 481.7 L1103.4 479 L1104.8 476.3 L1106.2 473.6 L1107.6 471 L1109 468.3 L1110.5 465.6 L1111.9 462.9 L1113.3 460.2 L1114.7 457.5 L1116.1 454.8 L1117.5 452.1 L1118.9 449.4 L1120.3 446.7 L1121.7 444 L1123.1 441.3 L1124.5 438.6 L1125.9 435.9 L1127.3 433.3 L1128.8 430.6 L1130.2 427.9 L1131.6 425.2 L1133 422.5 L1134.5 419.8 L1135.9 417.2 L1137.3 414.5 L1138.7 411.8 L1140.2 409.1 L1141.6 406.4 L1143 403.8 L1144.5 401.1 L1145.9 398.4 L1147.4 395.8 L1148.8 393.1 L1150.3 390.4 L1151.7 387.8 L1153.2 385.1 L1154.6 382.5 L1156.1 379.8 L1157.6 377.2 L1159 374.5 L1160.5 371.9 L1162 369.2 L1163.5 366.6 L1164.9 363.9 L1166.4 361.3 L1167.9 358.6 L1169.4 356 L1170.9 353.4 L1172.4 350.8 L1173.9 348.1 L1175.4 345.5 L1176.9 342.9 L1178.4 340.3 L1179.9 337.6 L1181.4 335 L1182.9 332.4 L1184.5 329.8 L1186 327.2 L1187.5 324.6 L1189 322 L1190.6 319.4 L1192.1 316.8 L1193.7 314.2 L1195.2 311.6 L1196.8 309 L1198.3 306.5 L1199.9 303.9 L1201.5 301.3 L1203 298.7 L1204.6 296.2 L1206.2 293.6 L1207.8 291 L1209.3 288.5 L1210.9 285.9 L1212.5 283.4 L1214.1 280.8 L1215.7 278.3 L1217.3 275.7 L1219 273.2 L1220.6 270.7 L1222.2 268.1 L1223.8 265.6 L1225.4 263.1 L1227.1 260.6 L1228.7 258 L1230.4 255.5 L1232 253 L1233.7 250.5 L1235.3 248 L1237 245.5 L1238.7 243 L1240.4 240.5 L1242 238.1 L1243.7 235.6 L1245.4 233.1 L1247.1 230.6 L1248.8 228.2 L1250.5 225.7 L1252.2 223.2 L1254 220.8 L1255.7 218.3 L1257.4 215.9 L1259.2 213.5 L1260.9 211 L1262.6 208.6 L1264.4 206.2 L1266.2 203.7 L1267.9 201.3 L1269.7 198.9 L1271.5 196.5 L1273.3 194.1 L1275 191.7 L1276.8 189.3 L1278.6 186.9 L1280.4 184.5 L1282.3 182.2 L1284.1 179.8 L1285.9 177.4 L1287.7 175.1 L1289.6 172.7 L1291.4 170.3 L1293.3 168 L1295.1 165.7 L1297 163.3 L1298.9 161 L1300.8 158.7 L1302.6 156.3 L1304.5 154 L1306.4 151.7 L1308.3 149.4 L1310.3 147.1 L1312.2 144.8 L1314.1 142.5 L1316 140.3 L1318 138 L1319.9 135.7 L1321.9 133.4 L1323.8 131.2 L1325.8 128.9 L1327.8 126.7 L1329.8 124.4 L1331.8 122.2 L1333.8 120 L1335.8 117.8 L1337.8 115.5 L1339.8 113.3 L1341.8 111.1 L1343.9 108.9 L1345.9 106.7 L1348 104.5 L1350 102.4 L1352.1 100.2 L1354.2 98 L1356.3 95.9 L1358.3 93.7 L1360.4 91.6 L1362.6 89.4 L1364.7 87.3 L1366.8 85.2 L1368.9 83 L1371.1 80.9 L1373.2 78.8 L1375.4 76.7 L1377.5 74.6 L1379.7 72.5 L1381.9 70.4 L1384.1 68.4 L1386.3 66.3 L1388.5 64.2 L1390.7 62.2 L1392.9 60.1 L1395.2 58.1 L1397.4 56.1 L1399.7 54.1 L1401.9 52 L1404.2 50 L1406.5 48 L1408.8 46 L1411.1 44 L1413.4 42.1 L1415.7 40.1 L1418 38.1 L1420.3 36.2 L1422.7 34.2 L1425 32.3" fill="none" stroke="#ff0000" stroke-width="6.0" stroke-linejoin="round"/>
<path d="M967.3 661.6 L968.9 659.1 L970.5 656.5 L972.1 654 L973.7 651.4 L975.3 648.8 L976.8 646.3 L978.4 643.7 L980 641.1 L981.5 638.5 L983.1 636 L984.6 633.4 L986.1 630.8 L987.7 628.2 L989.2 625.6 L990.7 623 L992.3 620.4 L993.8 617.8 L995.3 615.2 L996.8 612.6 L998.3 610 L999.8 607.4 L1001.3 604.8 L1002.8 602.2 L1004.3 599.5 L1005.8 596.9 L1007.3 594.3 L1008.8 591.7 L1010.3 589.1 L1011.8 586.4 L1013.3 583.8 L1014.7 581.2 L1016.2 578.6 L1017.7 575.9 L1019.2 573.3 L1020.7 570.7 L1022.2 568.1 L1023.7 565.5 L1025.2 562.8 L1026.7 560.2 L1028.2 557.6 L1029.7 555 L1031.2 552.4 L1032.7 549.8 L1034.2 547.1 L1035.7 544.5 L1037.2 541.9 L1038.7 539.3 L1040.2 536.7 L1041.8 534.1 L1043.3 531.5 L1044.8 528.9 L1046.4 526.3 L1047.9 523.7 L1049.5 521.1 L1051 518.6 L1052.6 516 L1054.1 513.4 L1055.7 510.8 L1057.3 508.3 L1058.9 505.7 L1060.5 503.1 L1062.1 500.6 L1063.7 498 L1065.3 495.5 L1066.9 492.9 L1068.5 490.4 L1070.1 487.9 L1071.8 485.3 L1073.4 482.8 L1075 480.3 L1076.7 477.7 L1078.3 475.2 L1080 472.7 L1081.6 470.2 L1083.3 467.6 L1085 465.1 L1086.6 462.6 L1088.3 460.1 L1090 457.6 L1091.6 455.1 L1093.3 452.6 L1095 450.1 L1096.7 447.6 L1098.4 445.1 L1100.1 442.6 L1101.8 440.1 L1103.5 437.6 L1105.2 435.2 L1106.9 432.7 L1108.6 430.2 L1110.3 427.7 L1112 425.2 L1113.7 422.7 L1115.4 420.3 L1117.1 417.8 L1118.8 415.3 L1120.5 412.8 L1122.2 410.3 L1123.9 407.9 L1125.6 405.4 L1127.4 402.9 L1129.1 400.4 L1130.8 398 L1132.5 395.5 L1134.2 393 L1135.9 390.5 L1137.6 388.1 L1139.3 385.6 L1141 383.1 L1142.7 380.7 L1144.4 378.2 L1146.1 375.7 L1147.8 373.2 L1149.5 370.8 L1151.2 368.3 L1152.9 365.8 L1154.6 363.3 L1156.3 360.9 L1158 358.4 L1159.7 355.9 L1161.4 353.4 L1163 350.9 L1164.7 348.4 L1166.4 346 L1168 343.5 L1169.7 341 L1171.4 338.5 L1173 336 L1174.7 333.5 L1176.3 331 L1177.9 328.5 L1179.6 326 L1181.2 323.5 L1182.8 321 L1184.4 318.4 L1186 315.9 L1187.6 313.4 L1189.2 310.9 L1190.8 308.3 L1192.4 305.8 L1193.9 303.2 L1195.5 300.7 L1197 298.1 L1198.6 295.5 L1200.1 292.9 L1201.6 290.4 L1203.1 287.8 L1204.6 285.2 L1206.1 282.6 L1207.6 280 L1209.1 277.4 L1210.6 274.8 L1212.1 272.2 L1213.6 269.6 L1215.1 267 L1216.6 264.4 L1218.1 261.8 L1219.6 259.2 L1221.1 256.6 L1222.6 254 L1224.1 251.4 L1225.6 248.8 L1227.1 246.2 L1228.6 243.6 L1230.2 241 L1231.7 238.4 L1233.2 235.9 L1234.8 233.3 L1236.3 230.7 L1237.9 228.1 L1239.5 225.6 L1241 223 L1242.6 220.5 L1244.2 217.9 L1245.8 215.4 L1247.5 212.9 L1249.1 210.4 L1250.7 207.8 L1252.4 205.3 L1254.1 202.8 L1255.7 200.3 L1257.4 197.9 L1259.1 195.4 L1260.8 192.9 L1262.6 190.4 L1264.3 188 L1266.1 185.6 L1267.8 183.1 L1269.6 180.7 L1271.4 178.3 L1273.2 175.9 L1275 173.5 L1276.8 171.1 L1278.6 168.7 L1280.5 166.4 L1282.4 164 L1284.2 161.7 L1286.1 159.4 L1288.1 157.1 L1290 154.7 L1291.9 152.5 L1293.9 150.2 L1295.8 147.9 L1297.8 145.7 L1299.8 143.4 L1301.8 141.2 L1303.8 139 L1305.9 136.7 L1307.9 134.5 L1310 132.3 L1312.1 130.2 L1314.1 128 L1316.2 125.8 L1318.3 123.7 L1320.4 121.5 L1322.6 119.4 L1324.7 117.3 L1326.8 115.1 L1329 113 L1331.1 110.9 L1333.3 108.8 L1335.5 106.7 L1337.7 104.6 L1339.8 102.6 L1342 100.5 L1344.2 98.4 L1346.4 96.4 L1348.7 94.3 L1350.9 92.3 L1353.1 90.2 L1355.3 88.2 L1357.6 86.1 L1359.8 84.1 L1362 82.1 L1364.3 80.1 L1366.5 78 L1368.8 76 L1371 74 L1373.3 72 L1375.5 70 L1377.8 68 L1380.1 66 L1382.3 64 L1384.6 62 L1386.8 60 L1389.1 58 L1391.4 56 L1393.6 54 L1395.9 52 L1398.1 50 L1400.4 48 L1402.7 46.1 L1404.9 44.1 L1407.2 42.1 L1409.4 40.1 L1411.6 38.1 L1413.9 36.1 L1416.1 34.1 L1418.3 32.1 L1420.6 30.1 L1422.8 28.1 L1425 26.1" fill="none" stroke="#a52a2a" stroke-width="6.0" stroke-linejoin="round"/>
</g>
<path d="M854.2 47.7h56.2" stroke="#00ff00" stroke-width="6" stroke-linecap="butt"/>
<text x="925.6" y="56.6" font-size="24" textLength="157.5" lengthAdjust="spacingAndGlyphs">Silva et al. 2015</text>
<path d="M854.2 82.3h56.2" stroke="#0000cd" stroke-width="6" stroke-linecap="butt"/>
<text x="925.6" y="91.2" font-size="24" textLength="187.8" lengthAdjust="spacingAndGlyphs">Fonseca et al. 2016</text>
<path d="M854.2 116.9h56.2" stroke="#ffa500" stroke-width="6" stroke-linecap="butt"/>
<text x="925.6" y="125.8" font-size="24" textLength="209.5" lengthAdjust="spacingAndGlyphs">Beherozzi et al.  2013</text>
<path d="M854.2 151.5h56.2" stroke="#ff0000" stroke-width="6" stroke-linecap="butt"/>
<text x="925.6" y="160.4" font-size="24" textLength="93.8" lengthAdjust="spacingAndGlyphs">TNG 300</text>
<path d="M854.2 186.1h56.2" stroke="#a52a2a" stroke-width="6" stroke-linecap="butt"/>
<text x="925.6" y="195" font-size="24" textLength="93.8" lengthAdjust="spacingAndGlyphs">TNG 100</text>
<text x="1257.9" y="54.8" font-size="28" font-style="italic">z</text>
<text x="1280.4" y="56.8" font-size="31" textLength="20.5" lengthAdjust="spacingAndGlyphs">∼</text>
<text x="1309.7" y="54.8" font-size="28">4</text>
<path d="M879.3 653.4v-4.5M879.3 16.8v4.5M905 653.4v-4.5M905 16.8v4.5M923.2 653.4v-4.5M923.2 16.8v4.5M937.4 653.4v-4.5M937.4 16.8v4.5M948.9 653.4v-4.5M948.9 16.8v4.5M958.7 653.4v-4.5M958.7 16.8v4.5M967.1 653.4v-4.5M967.1 16.8v4.5M974.6 653.4v-4.5M974.6 16.8v4.5M981.3 653.4v-10M981.3 16.8v10M1025.2 653.4v-4.5M1025.2 16.8v4.5M1050.9 653.4v-4.5M1050.9 16.8v4.5M1069.1 653.4v-4.5M1069.1 16.8v4.5M1083.2 653.4v-4.5M1083.2 16.8v4.5M1094.8 653.4v-4.5M1094.8 16.8v4.5M1104.6 653.4v-4.5M1104.6 16.8v4.5M1113 653.4v-4.5M1113 16.8v4.5M1120.5 653.4v-4.5M1120.5 16.8v4.5M1127.2 653.4v-10M1127.2 16.8v10M1171.1 653.4v-4.5M1171.1 16.8v4.5M1196.8 653.4v-4.5M1196.8 16.8v4.5M1215 653.4v-4.5M1215 16.8v4.5M1229.1 653.4v-4.5M1229.1 16.8v4.5M1240.7 653.4v-4.5M1240.7 16.8v4.5M1250.4 653.4v-4.5M1250.4 16.8v4.5M1258.9 653.4v-4.5M1258.9 16.8v4.5M1266.4 653.4v-4.5M1266.4 16.8v4.5M1273 653.4v-10M1273 16.8v10M1316.9 653.4v-4.5M1316.9 16.8v4.5M1342.6 653.4v-4.5M1342.6 16.8v4.5M1360.9 653.4v-4.5M1360.9 16.8v4.5M1375 653.4v-4.5M1375 16.8v4.5M1386.5 653.4v-4.5M1386.5 16.8v4.5M1396.3 653.4v-4.5M1396.3 16.8v4.5M1404.8 653.4v-4.5M1404.8 16.8v4.5M1412.2 653.4v-4.5M1412.2 16.8v4.5M835.4 615.1h4.5M1418.9 615.1h-4.5M835.4 592.7h4.5M1418.9 592.7h-4.5M835.4 576.7h4.5M1418.9 576.7h-4.5M835.4 564.4h4.5M1418.9 564.4h-4.5M835.4 554.3h4.5M1418.9 554.3h-4.5M835.4 545.8h4.5M1418.9 545.8h-4.5M835.4 538.4h4.5M1418.9 538.4h-4.5M835.4 531.9h4.5M1418.9 531.9h-4.5M835.4 526.1h10M1418.9 526.1h-10M835.4 487.8h4.5M1418.9 487.8h-4.5M835.4 465.3h4.5M1418.9 465.3h-4.5M835.4 449.4h4.5M1418.9 449.4h-4.5M835.4 437.1h4.5M1418.9 437.1h-4.5M835.4 427h4.5M1418.9 427h-4.5M835.4 418.5h4.5M1418.9 418.5h-4.5M835.4 411.1h4.5M1418.9 411.1h-4.5M835.4 404.6h4.5M1418.9 404.6h-4.5M835.4 398.8h10M1418.9 398.8h-10M835.4 360.4h4.5M1418.9 360.4h-4.5M835.4 338h4.5M1418.9 338h-4.5M835.4 322.1h4.5M1418.9 322.1h-4.5M835.4 309.8h4.5M1418.9 309.8h-4.5M835.4 299.7h4.5M1418.9 299.7h-4.5M835.4 291.2h4.5M1418.9 291.2h-4.5M835.4 283.8h4.5M1418.9 283.8h-4.5M835.4 277.3h4.5M1418.9 277.3h-4.5M835.4 271.4h10M1418.9 271.4h-10M835.4 233.1h4.5M1418.9 233.1h-4.5M835.4 210.7h4.5M1418.9 210.7h-4.5M835.4 194.8h4.5M1418.9 194.8h-4.5M835.4 182.4h4.5M1418.9 182.4h-4.5M835.4 172.4h4.5M1418.9 172.4h-4.5M835.4 163.8h4.5M1418.9 163.8h-4.5M835.4 156.5h4.5M1418.9 156.5h-4.5M835.4 149.9h4.5M1418.9 149.9h-4.5M835.4 144.1h10M1418.9 144.1h-10M835.4 105.8h4.5M1418.9 105.8h-4.5M835.4 83.4h4.5M1418.9 83.4h-4.5M835.4 67.5h4.5M1418.9 67.5h-4.5M835.4 55.1h4.5M1418.9 55.1h-4.5M835.4 45h4.5M1418.9 45h-4.5M835.4 36.5h4.5M1418.9 36.5h-4.5M835.4 29.1h4.5M1418.9 29.1h-4.5M835.4 22.6h4.5M1418.9 22.6h-4.5" stroke="#222" stroke-width="1.6" fill="none"/>
<rect x="835.4" y="16.8" width="583.5" height="636.6" fill="none" stroke="#222" stroke-width="1.7"/>
<text x="814.4" y="689" font-size="28" textLength="24.5" lengthAdjust="spacingAndGlyphs">10</text>
<text x="840.4" y="679" font-size="20">9</text>
<text x="955.3" y="689" font-size="28" textLength="24.5" lengthAdjust="spacingAndGlyphs">10</text>
<text x="981.3" y="679" font-size="20">10</text>
<text x="1101.2" y="689" font-size="28" textLength="24.5" lengthAdjust="spacingAndGlyphs">10</text>
<text x="1127.2" y="679" font-size="20">11</text>
<text x="1247.1" y="689" font-size="28" textLength="24.5" lengthAdjust="spacingAndGlyphs">10</text>
<text x="1273.1" y="679" font-size="20">12</text>
<text x="1393" y="689" font-size="28" textLength="24.5" lengthAdjust="spacingAndGlyphs">10</text>
<text x="1419" y="679" font-size="20">13</text>
<text x="817.8" y="653.1" font-size="20" text-anchor="end" textLength="23" lengthAdjust="spacingAndGlyphs">−2</text>
<text x="791.3" y="663.4" font-size="28" text-anchor="end" textLength="24.5" lengthAdjust="spacingAndGlyphs">10</text>
<text x="817.8" y="525.8" font-size="20" text-anchor="end" textLength="23" lengthAdjust="spacingAndGlyphs">−1</text>
<text x="791.3" y="536.1" font-size="28" text-anchor="end" textLength="24.5" lengthAdjust="spacingAndGlyphs">10</text>
<text x="818.6" y="398.5" font-size="20" text-anchor="end">0</text>
<text x="807.8" y="408.8" font-size="28" text-anchor="end" textLength="24.5" lengthAdjust="spacingAndGlyphs">10</text>
<text x="818.6" y="271.1" font-size="20" text-anchor="end">1</text>
<text x="807.8" y="281.4" font-size="28" text-anchor="end" textLength="24.5" lengthAdjust="spacingAndGlyphs">10</text>
<text x="818.6" y="143.8" font-size="20" text-anchor="end">2</text>
<text x="807.8" y="154.1" font-size="28" text-anchor="end" textLength="24.5" lengthAdjust="spacingAndGlyphs">10</text>
<text x="818.6" y="16.5" font-size="20" text-anchor="end">3</text>
<text x="807.8" y="26.8" font-size="28" text-anchor="end" textLength="24.5" lengthAdjust="spacingAndGlyphs">10</text>
<text x="1047.2" y="721" font-size="28" textLength="156" lengthAdjust="spacingAndGlyphs"><tspan font-style="italic">M</tspan><tspan font-size="20" dy="4">halo</tspan><tspan dy="-4"> [</tspan><tspan font-style="italic">M</tspan><tspan font-size="19" dy="5">⊙</tspan><tspan dy="-5">/</tspan><tspan font-style="italic">h</tspan>]</text>
<text transform="translate(759.9 419.2) rotate(-90)" x="0" y="0" font-size="32" textLength="162" lengthAdjust="spacingAndGlyphs">sfr [<tspan font-style="italic">M</tspan><tspan font-size="19" dy="5">⊙</tspan><tspan dy="-5">/</tspan><tspan font-style="italic">h</tspan>/<tspan font-style="italic">yr</tspan>]</text>
<g clip-path="url(#c2)">
<g filter="url(#speck2)">
<g opacity="0.07" filter="url(#b2_0)"><path d="M1560 600 C1560 571.7 1553.3 506.7 1560 490 C1566.7 473.3 1585 501.7 1600 500 C1615 498.3 1633.3 489.2 1650 480 C1666.7 470.8 1683.3 457.5 1700 445 C1716.7 432.5 1733.3 420 1750 405 C1766.7 390 1785 372.5 1800 355 C1815 337.5 1826.7 320 1840 300 C1853.3 280 1866.7 256.7 1880 235 C1893.3 213.3 1906.7 190.8 1920 170 C1933.3 149.2 1946.7 125.8 1960 110 C1973.3 94.2 1986.7 82.5 2000 75 C2013.3 67.5 2030 60.8 2040 65 C2050 69.2 2059.2 85.8 2060 100 C2060.8 114.2 2053.3 131.7 2045 150 C2036.7 168.3 2020.8 191.7 2010 210 C1999.2 228.3 1990 241.7 1980 260 C1970 278.3 1960 300 1950 320 C1940 340 1931.7 358.3 1920 380 C1908.3 401.7 1891.7 426.7 1880 450 C1868.3 473.3 1860 495 1850 520 C1840 545 1828.3 576.7 1820 600 C1811.7 623.3 1843.3 650 1800 660 C1756.7 670 1600 670 1560 660 C1520 650 1560 628.3 1560 600Z" fill="#000"/></g>
<g opacity="0.14" filter="url(#b2_1)"><path d="M1884.7 270 C1872.3 267.5 1889.4 260 1891.8 255 C1894.2 250 1896.5 245 1899 240 C1901.5 235 1904 230 1906.6 225 C1909.2 220 1911.9 215 1914.7 210 C1917.5 205 1920.4 200 1923.4 195 C1926.4 190 1929.5 185 1932.7 180 C1935.9 175 1939.2 170 1942.7 165 C1946.1 160 1949.6 155 1953.2 150 C1956.9 145 1960.6 140 1964.5 135 C1968.4 130 1972.3 125 1976.4 120 C1980.6 115 1984.8 110 1989.2 105 C1993.5 100 1997.7 95 2002.7 90 C2007.7 85 2009.8 80.8 2019.1 75 C2028.3 69.2 2048.2 55 2058 55 C2067.8 55 2075 69.2 2077.9 75 C2080.8 80.8 2076.9 85 2075.4 90 C2073.9 95 2071.2 100 2068.6 105 C2066.1 110 2063.2 115 2060.2 120 C2057.2 125 2053.9 130 2050.6 135 C2047.3 140 2043.8 145 2040.4 150 C2037 155 2033.6 160 2030.3 165 C2026.9 170 2023.7 175 2020.5 180 C2017.3 185 2014.1 190 2011 195 C2007.9 200 2004.8 205 2001.8 210 C1998.8 215 1995.7 220 1992.7 225 C1989.7 230 1986.8 235 1983.8 240 C1980.8 245 1977.9 250 1974.9 255 C1971.9 260 1981 267.5 1966 270 C1950.9 272.5 1897.1 272.5 1884.7 270Z" fill="#000"/></g>
<g opacity="0.35" filter="url(#b2_2)"><path d="M1915 260 C1912.5 245 1920.8 239.2 1925 230 C1929.2 220.8 1934.2 213.3 1940 205 C1945.8 196.7 1953.3 187.5 1960 180 C1966.7 172.5 1973.3 165 1980 160 C1986.7 155 1995.8 147.5 2000 150 C2004.2 152.5 2005.8 165.8 2005 175 C2004.2 184.2 1998.3 195 1995 205 C1991.7 215 1988.3 225 1985 235 C1981.7 245 1979.2 254.2 1975 265 C1970.8 275.8 1965.8 290.8 1960 300 C1954.2 309.2 1947.5 326.7 1940 320 C1932.5 313.3 1917.5 275 1915 260Z" fill="#000"/></g>
<g opacity="0.3" filter="url(#b2_3)"><path d="M1560 700 C1528.3 679.3 1559 597 1560 576 C1561 555 1563 576.2 1566 574 C1569 571.8 1573 566.5 1578 563 C1583 559.5 1590 556.5 1596 553 C1602 549.5 1608 545.5 1614 542 C1620 538.5 1626 535.5 1632 532 C1638 528.5 1644 525.2 1650 521 C1656 516.8 1663 511.7 1668 507 C1673 502.3 1675.3 497 1680 493 C1684.7 489 1690.9 486 1696.4 483 C1701.9 480 1707.9 477.7 1712.8 475 C1717.7 472.3 1721.5 470 1725.9 467 C1730.3 464 1734.7 460 1739 457 C1743.3 454 1746.8 453.2 1752 449 C1757.2 444.8 1763.7 438.7 1770 432 C1776.3 425.3 1783.9 416.7 1790 409 C1796.1 401.3 1800.9 393.3 1806.4 386 C1811.9 378.7 1817.3 372.3 1822.8 365 C1828.3 357.7 1834.7 349.2 1839.2 342 C1843.7 334.8 1846.4 329 1850 322 C1853.6 315 1856.5 308.5 1861 300 C1865.5 291.5 1871.7 280.2 1877 271 C1882.3 261.8 1887.5 253.5 1893 245 C1898.5 236.5 1904.7 226.3 1910 220 C1915.3 213.7 1919.2 207.8 1925 207 C1930.8 206.2 1940.8 207 1945 215 C1949.2 223 1950.8 241.7 1950 255 C1949.2 268.3 1945 283.2 1940 295 C1935 306.8 1925.9 318 1920 326 C1914.1 334 1910.1 335.6 1904.8 343.1 C1899.5 350.6 1893.9 362.2 1888.4 371 C1882.9 379.8 1877.5 387.1 1872 395.6 C1866.5 404.1 1861.1 412.7 1855.6 421.8 C1850.1 430.9 1844 439 1839.2 450 C1834.4 461 1831.5 476.8 1827 488 C1822.5 499.2 1816.5 508.7 1812 517 C1807.5 525.3 1804.8 528 1800 538 C1795.2 548 1788 563.8 1783 577 C1778 590.2 1774.3 604.3 1770 617 C1765.7 629.7 1760.3 639.2 1757 653 C1753.7 666.8 1782.8 692.2 1750 700 C1717.2 707.8 1591.7 720.7 1560 700Z" fill="#000" stroke="#000" stroke-width="22" stroke-linejoin="round"/></g>
<g opacity="0.7" filter="url(#b2_4)"><path d="M1560 700 C1528.3 679.3 1559 597 1560 576 C1561 555 1563 576.2 1566 574 C1569 571.8 1573 566.5 1578 563 C1583 559.5 1590 556.5 1596 553 C1602 549.5 1608 545.5 1614 542 C1620 538.5 1626 535.5 1632 532 C1638 528.5 1644 525.2 1650 521 C1656 516.8 1663 511.7 1668 507 C1673 502.3 1675.3 497 1680 493 C1684.7 489 1690.9 486 1696.4 483 C1701.9 480 1707.9 477.7 1712.8 475 C1717.7 472.3 1721.5 470 1725.9 467 C1730.3 464 1734.7 460 1739 457 C1743.3 454 1746.8 453.2 1752 449 C1757.2 444.8 1763.7 438.7 1770 432 C1776.3 425.3 1783.9 416.7 1790 409 C1796.1 401.3 1800.9 393.3 1806.4 386 C1811.9 378.7 1817.3 372.3 1822.8 365 C1828.3 357.7 1834.7 349.2 1839.2 342 C1843.7 334.8 1846.4 329 1850 322 C1853.6 315 1856.5 308.5 1861 300 C1865.5 291.5 1871.7 280.2 1877 271 C1882.3 261.8 1887.5 253.5 1893 245 C1898.5 236.5 1904.7 226.3 1910 220 C1915.3 213.7 1919.2 207.8 1925 207 C1930.8 206.2 1940.8 207 1945 215 C1949.2 223 1950.8 241.7 1950 255 C1949.2 268.3 1945 283.2 1940 295 C1935 306.8 1925.9 318 1920 326 C1914.1 334 1910.1 335.6 1904.8 343.1 C1899.5 350.6 1893.9 362.2 1888.4 371 C1882.9 379.8 1877.5 387.1 1872 395.6 C1866.5 404.1 1861.1 412.7 1855.6 421.8 C1850.1 430.9 1844 439 1839.2 450 C1834.4 461 1831.5 476.8 1827 488 C1822.5 499.2 1816.5 508.7 1812 517 C1807.5 525.3 1804.8 528 1800 538 C1795.2 548 1788 563.8 1783 577 C1778 590.2 1774.3 604.3 1770 617 C1765.7 629.7 1760.3 639.2 1757 653 C1753.7 666.8 1782.8 692.2 1750 700 C1717.2 707.8 1591.7 720.7 1560 700Z" fill="#000" stroke="#000" stroke-width="8" stroke-linejoin="round"/></g>
<g opacity="1.0" filter="url(#b2_5)"><path d="M1560 700 C1528.3 679.3 1559 597 1560 576 C1561 555 1563 576.2 1566 574 C1569 571.8 1573 566.5 1578 563 C1583 559.5 1590 556.5 1596 553 C1602 549.5 1608 545.5 1614 542 C1620 538.5 1626 535.5 1632 532 C1638 528.5 1644 525.2 1650 521 C1656 516.8 1663 511.7 1668 507 C1673 502.3 1675.3 497 1680 493 C1684.7 489 1690.9 486 1696.4 483 C1701.9 480 1707.9 477.7 1712.8 475 C1717.7 472.3 1721.5 470 1725.9 467 C1730.3 464 1734.7 460 1739 457 C1743.3 454 1746.8 453.2 1752 449 C1757.2 444.8 1763.7 438.7 1770 432 C1776.3 425.3 1783.9 416.7 1790 409 C1796.1 401.3 1800.9 393.3 1806.4 386 C1811.9 378.7 1817.3 372.3 1822.8 365 C1828.3 357.7 1834.7 349.2 1839.2 342 C1843.7 334.8 1846.4 329 1850 322 C1853.6 315 1856.5 308.5 1861 300 C1865.5 291.5 1871.7 280.2 1877 271 C1882.3 261.8 1887.5 253.5 1893 245 C1898.5 236.5 1904.7 226.3 1910 220 C1915.3 213.7 1919.2 207.8 1925 207 C1930.8 206.2 1940.8 207 1945 215 C1949.2 223 1950.8 241.7 1950 255 C1949.2 268.3 1945 283.2 1940 295 C1935 306.8 1925.9 318 1920 326 C1914.1 334 1910.1 335.6 1904.8 343.1 C1899.5 350.6 1893.9 362.2 1888.4 371 C1882.9 379.8 1877.5 387.1 1872 395.6 C1866.5 404.1 1861.1 412.7 1855.6 421.8 C1850.1 430.9 1844 439 1839.2 450 C1834.4 461 1831.5 476.8 1827 488 C1822.5 499.2 1816.5 508.7 1812 517 C1807.5 525.3 1804.8 528 1800 538 C1795.2 548 1788 563.8 1783 577 C1778 590.2 1774.3 604.3 1770 617 C1765.7 629.7 1760.3 639.2 1757 653 C1753.7 666.8 1782.8 692.2 1750 700 C1717.2 707.8 1591.7 720.7 1560 700Z" fill="#000"/></g>
</g>
<path d="M1565 617.3 L1567.9 615.4 L1570.7 614.8 L1573.7 615.2 L1576.7 616.4 L1579.7 618.2 L1582.7 620.3 L1585.7 622.5 L1588.6 624.6 L1591.6 626.3 L1594.4 627.5 L1597.3 628.3 L1600 628.6 L1602.7 628.5 L1605.4 628.1 L1608 627.4 L1610.6 626.5 L1613.2 625.3 L1615.7 623.9 L1618.1 622.4 L1620.6 620.9 L1623 619.3 L1625.3 617.6 L1627.7 615.9 L1630 614.1 L1632.3 612.3 L1634.6 610.4 L1636.8 608.5 L1639.1 606.6 L1641.3 604.6 L1643.5 602.6 L1645.7 600.5 L1647.8 598.5 L1650 596.4 L1652.2 594.3 L1654.3 592.1 L1656.4 590 L1658.6 587.8 L1660.7 585.7 L1662.8 583.5 L1665 581.3 L1667.1 579.1 L1669.2 577 L1671.4 574.8 L1673.5 572.6 L1675.7 570.5 L1677.9 568.4 L1680 566.3 L1682.2 564.2 L1684.4 562.1 L1686.6 560 L1688.9 557.9 L1691.1 555.9 L1693.3 553.8 L1695.6 551.8 L1697.8 549.8 L1700 547.7 L1702.3 545.7 L1704.5 543.7 L1706.8 541.7 L1709.1 539.7 L1711.3 537.7 L1713.6 535.8 L1715.8 533.8 L1718.1 531.8 L1720.4 529.8 L1722.6 527.8 L1724.9 525.9 L1727.2 523.9 L1729.4 521.9 L1731.7 519.9 L1733.9 518 L1736.2 516 L1738.4 514 L1740.6 512 L1742.9 510 L1745.1 508 L1747.3 506 L1749.5 504 L1751.7 502 L1753.9 499.9 L1756.1 497.9 L1758.2 495.9 L1760.4 493.8 L1762.5 491.7 L1764.6 489.6 L1766.8 487.6 L1768.9 485.5 L1771 483.3 L1773 481.2 L1775.1 479.1 L1777.1 476.9 L1779.2 474.7 L1781.2 472.5 L1783.2 470.3 L1785.2 468.1 L1787.1 465.8 L1789.1 463.6 L1791 461.3 L1792.9 459 L1794.8 456.7 L1796.7 454.4 L1798.5 452 L1800.4 449.7 L1802.2 447.3 L1804 444.9 L1805.8 442.5 L1807.6 440.1 L1809.4 437.7 L1811.1 435.2 L1812.9 432.8 L1814.6 430.3 L1816.3 427.8 L1818 425.3 L1819.7 422.8 L1821.4 420.3 L1823 417.8 L1824.7 415.3 L1826.3 412.7 L1827.9 410.2 L1829.5 407.6 L1831.1 405 L1832.7 402.4 L1834.3 399.8 L1835.8 397.2 L1837.4 394.6 L1838.9 392 L1840.4 389.4 L1842 386.8 L1843.5 384.1 L1845 381.5 L1846.4 378.8 L1847.9 376.2 L1849.4 373.5 L1850.8 370.8 L1852.3 368.1 L1853.7 365.5 L1855.1 362.8 L1856.5 360.1 L1858 357.4 L1859.3 354.7 L1860.7 352 L1862.1 349.3 L1863.5 346.6 L1864.9 343.9 L1866.2 341.1 L1867.6 338.4 L1868.9 335.7 L1870.3 333 L1871.6 330.3 L1872.9 327.5 L1874.2 324.8 L1875.5 322.1 L1876.8 319.4 L1878.2 316.7 L1879.4 313.9 L1880.7 311.2 L1882 308.5 L1883.3 305.8 L1884.6 303 L1885.9 300.3 L1887.2 297.6 L1888.4 294.9 L1889.7 292.1 L1891 289.4 L1892.2 286.7 L1893.5 284 L1894.8 281.3 L1896.1 278.6 L1897.3 275.8 L1898.6 273.1 L1899.9 270.4 L1901.2 267.7 L1902.4 265 L1903.7 262.3 L1905 259.6 L1906.3 256.9 L1907.6 254.2 L1908.9 251.5 L1910.2 248.8 L1911.5 246.1 L1912.8 243.4 L1914.1 240.7 L1915.4 238.1 L1916.8 235.4 L1918.1 232.7 L1919.4 230 L1920.8 227.4 L1922.1 224.7 L1923.5 222 L1924.9 219.4 L1926.3 216.7 L1927.7 214.1 L1929.1 211.4 L1930.5 208.8 L1931.9 206.2 L1933.3 203.5 L1934.8 200.9 L1936.2 198.3 L1937.7 195.7 L1939.1 193.1 L1940.6 190.5 L1942.1 187.9 L1943.6 185.3 L1945.1 182.7 L1946.7 180.1 L1948.2 177.5 L1949.8 175 L1951.3 172.4 L1952.9 169.8 L1954.5 167.3 L1956.1 164.7 L1957.7 162.2 L1959.3 159.7 L1961 157.2 L1962.6 154.6 L1964.3 152.1 L1966 149.6 L1967.7 147.1 L1969.4 144.7 L1971.1 142.2 L1972.9 139.7 L1974.6 137.3 L1976.4 134.8 L1978.2 132.4 L1980 129.9 L1981.8 127.5 L1983.6 125.1 L1985.5 122.7 L1987.3 120.3 L1989.2 117.9 L1991.1 115.5 L1993 113.1 L1995 110.8 L1996.9 108.4 L1998.9 106.1 L2000.9 103.8 L2002.9 101.5 L2004.9 99.1 L2006.9 96.9 L2009 94.6 L2011 92.3 L2013.1 90.1 L2015.3 87.8 L2017.4 85.7 L2019.6 83.6 L2021.8 81.5 L2024.1 79.5 L2026.4 77.6 L2028.8 75.7 L2031.1 73.9 L2033.6 72.3 L2036.1 70.7 L2038.6 69.3 L2041.3 67.9 L2043.9 66.7 L2046.7 65.7 L2049.5 64.8 L2052.4 64 L2055.3 63.4 L2058.4 62.9 L2061.5 62.7 L2063 62.3 L2065.4 64.7 L2067.2 67.1 L2068.5 69.5 L2069.3 72 L2069.8 74.6 L2069.9 77.2 L2069.6 79.8 L2069.1 82.4 L2068.3 85.1 L2067.3 87.8 L2066.2 90.5 L2064.9 93.1 L2063.6 95.8 L2062.2 98.5 L2060.8 101.1 L2059.4 103.8 L2057.9 106.4 L2056.5 109 L2055 111.6 L2053.4 114.2 L2051.9 116.8 L2050.3 119.4 L2048.7 121.9 L2047.1 124.5 L2045.4 127.1 L2043.8 129.6 L2042.1 132.2 L2040.4 134.7 L2038.7 137.3 L2037 139.8 L2035.3 142.3 L2033.6 144.9 L2031.9 147.4 L2030.2 149.9 L2028.5 152.4 L2026.8 155 L2025 157.5 L2023.3 160 L2021.6 162.5 L2019.9 165 L2018.2 167.6 L2016.5 170.1 L2014.8 172.6 L2013.1 175.2 L2011.4 177.7 L2009.8 180.2 L2008.1 182.7 L2006.4 185.3 L2004.7 187.8 L2003.1 190.3 L2001.4 192.9 L1999.7 195.4 L1998.1 197.9 L1996.4 200.5 L1994.7 203 L1993.1 205.5 L1991.4 208.1 L1989.8 210.6 L1988.1 213.1 L1986.5 215.7 L1984.8 218.2 L1983.2 220.7 L1981.5 223.3 L1979.9 225.8 L1978.3 228.3 L1976.6 230.9 L1975 233.4 L1973.3 235.9 L1971.7 238.5 L1970.1 241 L1968.4 243.5 L1966.8 246.1 L1965.2 248.6 L1963.5 251.1 L1961.9 253.6 L1960.2 256.2 L1958.6 258.7 L1957 261.2 L1955.3 263.8 L1953.7 266.3 L1952.1 268.8 L1950.4 271.3 L1948.8 273.9 L1947.2 276.4 L1945.5 278.9 L1943.9 281.4 L1942.2 283.9 L1940.6 286.5 L1938.9 289 L1937.3 291.5 L1935.7 294 L1934 296.5 L1932.4 299.1 L1930.7 301.6 L1929.1 304.1 L1927.4 306.6 L1925.7 309.1 L1924.1 311.6 L1922.4 314.1 L1920.7 316.6 L1919.1 319.1 L1917.4 321.6 L1915.7 324.1 L1914.1 326.6 L1912.4 329.1 L1910.7 331.6 L1909 334.1 L1907.3 336.6 L1905.6 339.1 L1903.9 341.6 L1902.2 344.1 L1900.6 346.6 L1898.8 349.1 L1897.1 351.6 L1895.4 354.1 L1893.7 356.6 L1892 359 L1890.3 361.5 L1888.6 364 L1886.9 366.5 L1885.2 369 L1883.5 371.5 L1881.7 373.9 L1880 376.4 L1878.3 378.9 L1876.6 381.4 L1874.9 383.9 L1873.1 386.4 L1871.4 388.8 L1869.7 391.3 L1868 393.8 L1866.2 396.3 L1864.5 398.8 L1862.8 401.2 L1861.1 403.7 L1859.4 406.2 L1857.6 408.7 L1855.9 411.2 L1854.2 413.6 L1852.5 416.1 L1850.8 418.6 L1849 421.1 L1847.3 423.6 L1845.6 426.1 L1843.9 428.6 L1842.2 431 L1840.5 433.5 L1838.8 436 L1837.1 438.5 L1835.4 441 L1833.7 443.5 L1832 446 L1830.3 448.5 L1828.6 451 L1826.9 453.5 L1825.2 456 L1823.5 458.5 L1821.8 461 L1820.1 463.5 L1818.5 466 L1816.8 468.5 L1815.1 471 L1813.5 473.6 L1811.8 476.1 L1810.2 478.6 L1808.5 481.1 L1806.9 483.6 L1805.2 486.2 L1803.6 488.7 L1801.9 491.2 L1800.3 493.8 L1798.7 496.3 L1797.1 498.8 L1795.4 501.4 L1793.8 503.9 L1792.2 506.5 L1790.6 509 L1789 511.6 L1787.4 514.1 L1785.9 516.7 L1784.3 519.2 L1782.7 521.8 L1781.1 524.4 L1779.6 527 L1778 529.5 L1776.5 532.1 L1775 534.7 L1773.4 537.3 L1771.9 539.9 L1770.4 542.5 L1768.9 545.1 L1767.4 547.7 L1765.9 550.3 L1764.4 552.9 L1762.9 555.5 L1761.4 558.1 L1760 560.7 L1758.5 563.3 L1757 566 L1755.6 568.6 L1754.1 571.2 L1752.7 573.8 L1751.2 576.5 L1749.7 579.1 L1748.3 581.7 L1746.8 584.3 L1745.3 586.9 L1743.7 589.4 L1742.2 592 L1740.6 594.5 L1739.1 597.1 L1737.5 599.6 L1735.8 602.1 L1734.2 604.6 L1732.5 607 L1730.8 609.5 L1729 611.9 L1727.2 614.3 L1725.4 616.6 L1723.6 618.9 L1721.6 621.2 L1719.7 623.5 L1717.7 625.8 L1715.6 628 L1713.5 630.1 L1711.4 632.3 L1709.2 634.4 L1706.9 636.4 L1704.6 638.4 L1702.2 640.4 L1699.8 642.3 L1697.2 644.2 L1694.7 646.1 L1692 647.9 L1689.3 649.6 L1686.5 651.3 L1683.6 652.9 L1683.6 720 L1554.9 720 L1554.9 617.3Z" fill="#00ffff" fill-opacity="0.5" stroke="#00ffff" stroke-opacity="0.5" stroke-width="1.3"/>
<path d="M1613.1 662 L1614.4 659.3 L1615.7 656.6 L1617.1 653.9 L1618.4 651.2 L1619.7 648.5 L1621 645.8 L1622.4 643.1 L1623.7 640.3 L1625 637.6 L1626.3 634.9 L1627.7 632.2 L1629 629.5 L1630.3 626.8 L1631.7 624.1 L1633 621.4 L1634.4 618.7 L1635.7 616 L1637.1 613.3 L1638.4 610.6 L1639.8 607.9 L1641.2 605.3 L1642.6 602.6 L1644 599.9 L1645.4 597.2 L1646.8 594.6 L1648.2 591.9 L1649.6 589.2 L1651 586.6 L1652.4 583.9 L1653.9 581.3 L1655.3 578.6 L1656.7 576 L1658.2 573.3 L1659.6 570.7 L1661.1 568 L1662.5 565.4 L1664 562.8 L1665.4 560.1 L1666.9 557.5 L1668.3 554.8 L1669.8 552.2 L1671.2 549.5 L1672.7 546.9 L1674.1 544.2 L1675.5 541.6 L1676.9 538.9 L1678.3 536.2 L1679.7 533.6 L1681 530.9 L1682.4 528.2 L1683.7 525.5 L1685 522.8 L1686.4 520 L1687.7 517.3 L1689 514.6 L1690.3 511.9 L1691.6 509.2 L1693 506.5 L1694.3 503.8 L1695.6 501.1 L1696.9 498.4 L1698.3 495.7 L1699.6 493 L1701 490.3 L1702.4 487.7 L1703.8 485 L1705.3 482.4 L1706.7 479.8 L1708.2 477.1 L1709.7 474.5 L1711.2 471.9 L1712.7 469.4 L1714.2 466.8 L1715.8 464.2 L1717.3 461.7 L1718.9 459.1 L1720.4 456.5 L1722 454 L1723.6 451.4 L1725.1 448.8 L1726.7 446.3 L1728.3 443.7 L1729.9 441.2 L1731.4 438.6 L1733 436 L1734.5 433.4 L1736.1 430.8 L1737.7 428.3 L1739.2 425.7 L1740.8 423.1 L1742.3 420.5 L1743.9 417.9 L1745.4 415.3 L1746.9 412.7 L1748.5 410.1 L1750 407.5 L1751.5 404.9 L1753.1 402.3 L1754.6 399.7 L1756.2 397.1 L1757.7 394.5 L1759.3 391.9 L1760.9 389.3 L1762.4 386.8 L1764 384.2 L1765.6 381.6 L1767.2 379.1 L1768.8 376.5 L1770.3 374 L1771.9 371.4 L1773.5 368.9 L1775.2 366.4 L1776.8 363.8 L1778.4 361.3 L1780 358.8 L1781.6 356.3 L1783.3 353.8 L1784.9 351.3 L1786.6 348.8 L1788.2 346.3 L1789.9 343.8 L1791.5 341.3 L1793.2 338.8 L1794.9 336.3 L1796.6 333.8 L1798.3 331.3 L1799.9 328.8 L1801.7 326.4 L1803.4 323.9 L1805.1 321.4 L1806.8 319 L1808.5 316.5 L1810.3 314.1 L1812 311.6 L1813.8 309.1 L1815.5 306.7 L1817.3 304.3 L1819.1 301.8 L1820.8 299.4 L1822.6 296.9 L1824.4 294.5 L1826.2 292.1 L1828 289.6 L1829.9 287.2 L1831.7 284.8 L1833.5 282.4 L1835.4 279.9 L1837.2 277.5 L1839.1 275.1 L1840.9 272.7 L1842.8 270.3 L1844.7 267.9 L1846.6 265.5 L1848.5 263.2 L1850.5 260.8 L1852.4 258.5 L1854.4 256.1 L1856.3 253.8 L1858.3 251.5 L1860.3 249.2 L1862.3 246.9 L1864.3 244.6 L1866.4 242.4 L1868.4 240.1 L1870.5 237.9 L1872.6 235.7 L1874.7 233.6 L1876.8 231.4 L1879 229.3 L1881.2 227.2 L1883.3 225.1 L1885.5 223 L1887.8 221 L1890 219 L1892.3 217 L1894.5 215 L1896.8 213.1 L1899.2 211.2 L1901.5 209.4 L1903.9 207.5 L1906.3 205.7 L1908.7 204 L1911.1 202.2 L1913.6 200.5 L1916.1 198.9 L1918.6 197.2 L1921.2 195.6 L1923.7 194.1 L1926.3 192.6 L1928.9 191.1 L1931.5 189.6 L1934.2 188.2 L1936.8 186.8 L1939.5 185.5 L1942.2 184.1 L1945 182.9 L1947.7 181.6 L1950.5 180.4 L1953.2 179.2 L1956 178.1 L1958.8 177 L1961.6 175.9 L1964.5 174.9 L1967.3 173.9 L1970.2 173 L1973 172 L1975.9 171.2 L1978.8 170.3 L1981.7 169.5 L1984.6 168.7 L1987.6 168 L1990.5 167.3 L1993.4 166.6 L1996.4 165.9 L1999.3 165.3 L2002.3 164.8 L2005.3 164.2 L2008.2 163.7 L2011.2 163.3 L2014.2 162.9 L2017.2 162.5 L2020.2 162.1 L2023.2 161.8 L2026.2 161.5 L2029.2 161.2 L2032.2 161 L2035.2 160.7 L2038.2 160.6 L2041.2 160.4 L2044.3 160.2 L2047.3 160.1 L2050.3 160 L2053.3 159.9 L2056.4 159.8 L2059.4 159.8 L2062.4 159.7 L2065.4 159.7 L2068.5 159.7 L2071.5 159.6 L2074.5 159.6 L2077.6 159.7 L2080.6 159.7 L2083.6 159.7 L2086.7 159.7 L2089.7 159.7 L2092.7 159.8 L2095.8 159.8 L2098.8 159.8 L2101.8 159.8 L2104.9 159.9 L2107.9 159.9 L2110.9 159.9 L2113.9 159.9 L2116.9 159.9 L2119.9 159.9 L2123 159.9 L2126 159.8 L2129 159.8 L2132 159.7 L2135 159.7 L2138 159.6 L2141 159.4 L2143.9 159.3 L2146.9 159.2 L2149.9 159" fill="none" stroke="#00ff00" stroke-width="6.0" stroke-linejoin="round"/>
<path d="M1634.5 662.2 L1635.9 659.5 L1637.2 656.8 L1638.5 654.1 L1639.9 651.4 L1641.2 648.7 L1642.6 646.1 L1643.9 643.4 L1645.2 640.7 L1646.6 638 L1647.9 635.3 L1649.3 632.6 L1650.6 629.9 L1651.9 627.2 L1653.3 624.5 L1654.6 621.8 L1656 619.1 L1657.3 616.5 L1658.6 613.8 L1660 611.1 L1661.3 608.4 L1662.6 605.7 L1664 603 L1665.3 600.3 L1666.7 597.6 L1668 594.9 L1669.3 592.2 L1670.7 589.5 L1672 586.8 L1673.4 584.1 L1674.7 581.4 L1676.1 578.7 L1677.4 576 L1678.8 573.3 L1680.1 570.6 L1681.5 567.9 L1682.8 565.3 L1684.2 562.6 L1685.5 559.9 L1686.9 557.2 L1688.3 554.5 L1689.6 551.8 L1691 549.1 L1692.4 546.4 L1693.7 543.8 L1695.1 541.1 L1696.5 538.4 L1697.9 535.7 L1699.2 533 L1700.6 530.3 L1702 527.7 L1703.4 525 L1704.8 522.3 L1706.2 519.6 L1707.6 517 L1709 514.3 L1710.4 511.6 L1711.8 509 L1713.2 506.3 L1714.6 503.6 L1716 501 L1717.4 498.3 L1718.8 495.7 L1720.3 493 L1721.7 490.4 L1723.1 487.7 L1724.6 485.1 L1726 482.4 L1727.5 479.8 L1728.9 477.1 L1730.4 474.5 L1731.8 471.9 L1733.3 469.2 L1734.7 466.6 L1736.2 464 L1737.7 461.3 L1739.2 458.7 L1740.7 456.1 L1742.1 453.5 L1743.6 450.9 L1745.1 448.3 L1746.6 445.7 L1748.1 443.1 L1749.7 440.5 L1751.2 437.9 L1752.7 435.3 L1754.2 432.7 L1755.8 430.1 L1757.3 427.5 L1758.9 424.9 L1760.4 422.3 L1762 419.8 L1763.5 417.2 L1765.1 414.6 L1766.7 412.1 L1768.3 409.5 L1769.8 407 L1771.4 404.4 L1773 401.9 L1774.7 399.3 L1776.3 396.8 L1777.9 394.2 L1779.5 391.7 L1781.1 389.2 L1782.8 386.7 L1784.4 384.1 L1786.1 381.6 L1787.7 379.1 L1789.4 376.6 L1791.1 374.1 L1792.8 371.6 L1794.5 369.1 L1796.2 366.6 L1797.9 364.2 L1799.6 361.7 L1801.3 359.2 L1803 356.7 L1804.7 354.3 L1806.5 351.8 L1808.2 349.4 L1810 346.9 L1811.8 344.5 L1813.5 342.1 L1815.3 339.6 L1817.1 337.2 L1818.9 334.8 L1820.7 332.4 L1822.5 330 L1824.4 327.6 L1826.2 325.2 L1828 322.8 L1829.9 320.4 L1831.7 318 L1833.6 315.6 L1835.5 313.3 L1837.4 310.9 L1839.3 308.6 L1841.2 306.2 L1843.1 303.9 L1845 301.5 L1846.9 299.2 L1848.9 296.9 L1850.8 294.5 L1852.8 292.2 L1854.8 289.9 L1856.8 287.6 L1858.7 285.3 L1860.7 283.1 L1862.8 280.8 L1864.8 278.5 L1866.8 276.3 L1868.9 274 L1870.9 271.8 L1873 269.5 L1875 267.3 L1877.1 265.1 L1879.2 262.9 L1881.3 260.7 L1883.4 258.5 L1885.6 256.4 L1887.7 254.2 L1889.8 252.1 L1892 249.9 L1894.1 247.8 L1896.3 245.7 L1898.5 243.6 L1900.7 241.5 L1902.9 239.4 L1905.1 237.4 L1907.4 235.3 L1909.6 233.3 L1911.9 231.3 L1914.1 229.3 L1916.4 227.3 L1918.7 225.3 L1921 223.4 L1923.3 221.5 L1925.6 219.5 L1927.9 217.6 L1930.3 215.7 L1932.6 213.9 L1935 212 L1937.3 210.2 L1939.7 208.4 L1942.1 206.6 L1944.5 204.8 L1947 203 L1949.4 201.3 L1951.8 199.6 L1954.3 197.9 L1956.8 196.2 L1959.2 194.5 L1961.7 192.9 L1964.2 191.2 L1966.7 189.6 L1969.3 188.1 L1971.8 186.5 L1974.3 185 L1976.9 183.5 L1979.5 182 L1982.1 180.5 L1984.7 179.1 L1987.3 177.6 L1989.9 176.2 L1992.5 174.9 L1995.2 173.5 L1997.8 172.2 L2000.5 170.9 L2003.2 169.6 L2005.9 168.4 L2008.6 167.1 L2011.3 165.9 L2014.1 164.8 L2016.8 163.6 L2019.6 162.5 L2022.3 161.4 L2025.1 160.4 L2027.9 159.3 L2030.7 158.3 L2033.5 157.3 L2036.4 156.4 L2039.2 155.4 L2042.1 154.5 L2044.9 153.7 L2047.8 152.8 L2050.7 152 L2053.6 151.2 L2056.5 150.5 L2059.4 149.7 L2062.3 149 L2065.2 148.4 L2068.2 147.7 L2071.1 147.1 L2074.1 146.5 L2077.1 146 L2080 145.5 L2083 145 L2086 144.5 L2089 144.1 L2092.1 143.7 L2095.1 143.3 L2098.1 143 L2101.2 142.7 L2104.2 142.4 L2107.3 142.2 L2110.3 142 L2113.4 141.8 L2116.5 141.7 L2119.6 141.6 L2122.7 141.5 L2125.8 141.5 L2128.9 141.5 L2132 141.5 L2135.1 141.5 L2138.3 141.6 L2141.4 141.8 L2144.5 141.9 L2147.7 142.1 L2150.8 142.4" fill="none" stroke="#0000cd" stroke-width="6.0" stroke-linejoin="round"/>
<path d="M1670 662.2 L1671.4 659.5 L1672.8 656.8 L1674.2 654.1 L1675.6 651.4 L1677 648.7 L1678.4 646 L1679.9 643.3 L1681.3 640.6 L1682.7 637.9 L1684.1 635.3 L1685.5 632.6 L1686.9 629.9 L1688.4 627.2 L1689.8 624.5 L1691.2 621.8 L1692.6 619.2 L1694.1 616.5 L1695.5 613.8 L1696.9 611.1 L1698.3 608.5 L1699.8 605.8 L1701.2 603.1 L1702.6 600.5 L1704 597.8 L1705.5 595.1 L1706.9 592.5 L1708.3 589.8 L1709.8 587.2 L1711.2 584.5 L1712.6 581.8 L1714.1 579.2 L1715.5 576.5 L1716.9 573.9 L1718.4 571.2 L1719.8 568.6 L1721.2 565.9 L1722.7 563.3 L1724.1 560.6 L1725.5 558 L1727 555.3 L1728.4 552.7 L1729.9 550 L1731.3 547.4 L1732.7 544.7 L1734.2 542.1 L1735.6 539.5 L1737.1 536.8 L1738.5 534.2 L1740 531.5 L1741.4 528.9 L1742.9 526.3 L1744.3 523.6 L1745.7 521 L1747.2 518.4 L1748.6 515.7 L1750.1 513.1 L1751.5 510.5 L1753 507.8 L1754.4 505.2 L1755.9 502.6 L1757.3 499.9 L1758.8 497.3 L1760.3 494.7 L1761.7 492.1 L1763.2 489.4 L1764.6 486.8 L1766.1 484.2 L1767.5 481.5 L1769 478.9 L1770.4 476.3 L1771.9 473.7 L1773.4 471 L1774.8 468.4 L1776.3 465.8 L1777.7 463.1 L1779.2 460.5 L1780.7 457.9 L1782.1 455.3 L1783.6 452.6 L1785 450 L1786.5 447.4 L1788 444.8 L1789.4 442.1 L1790.9 439.5 L1792.4 436.9 L1793.8 434.3 L1795.3 431.6 L1796.7 429 L1798.2 426.4 L1799.7 423.8 L1801.2 421.1 L1802.6 418.5 L1804.1 415.9 L1805.6 413.2 L1807 410.6 L1808.5 408 L1810 405.4 L1811.4 402.7 L1812.9 400.1 L1814.4 397.5 L1815.8 394.8 L1817.3 392.2 L1818.8 389.6 L1820.3 386.9 L1821.7 384.3 L1823.2 381.7 L1824.7 379 L1826.2 376.4 L1827.6 373.8 L1829.1 371.1 L1830.6 368.5 L1832.1 365.9 L1833.5 363.2 L1835 360.6 L1836.5 357.9 L1838 355.3 L1839.5 352.7 L1840.9 350 L1842.4 347.4 L1843.9 344.7 L1845.4 342.1 L1846.8 339.4 L1848.3 336.8 L1849.8 334.1 L1851.3 331.5 L1852.8 328.8 L1854.2 326.2 L1855.7 323.5 L1857.2 320.9 L1858.7 318.2 L1860.2 315.6 L1861.7 312.9 L1863.1 310.3 L1864.6 307.6 L1866.1 304.9 L1867.6 302.3 L1869.1 299.6 L1870.6 297 L1872 294.3 L1873.5 291.6 L1875 289 L1876.5 286.3 L1878 283.6 L1879.5 281 L1881 278.3 L1882.5 275.6 L1884 273 L1885.5 270.3 L1887 267.7 L1888.6 265.1 L1890.1 262.4 L1891.6 259.8 L1893.2 257.2 L1894.7 254.6 L1896.3 252 L1897.9 249.4 L1899.5 246.8 L1901.1 244.3 L1902.7 241.7 L1904.3 239.2 L1905.9 236.6 L1907.5 234.1 L1909.2 231.6 L1910.9 229.1 L1912.6 226.7 L1914.3 224.2 L1916 221.8 L1917.7 219.4 L1919.4 217 L1921.2 214.6 L1923 212.2 L1924.8 209.9 L1926.6 207.5 L1928.4 205.2 L1930.3 203 L1932.2 200.7 L1934.1 198.5 L1936 196.3 L1937.9 194.1 L1939.9 191.9 L1941.9 189.8 L1943.9 187.7 L1945.9 185.6 L1948 183.6 L1950 181.6 L1952.1 179.6 L1954.3 177.6 L1956.4 175.7 L1958.6 173.8 L1960.8 171.9 L1963.1 170.1 L1965.4 168.3 L1967.7 166.5 L1970 164.8 L1972.3 163.1 L1974.7 161.4 L1977.2 159.8 L1979.6 158.2 L1982.1 156.7 L1984.6 155.1 L1987.2 153.7 L1989.8 152.2 L1992.4 150.8 L1995 149.5 L1997.7 148.2 L2000.5 146.9 L2003.2 145.7 L2006 144.5 L2008.9 143.4 L2011.8 142.3 L2014.7 141.2 L2017.6 140.2 L2020.6 139.2 L2023.5 138.3 L2026.6 137.4 L2029.6 136.5 L2032.6 135.7 L2035.7 134.9 L2038.8 134.1 L2041.9 133.3 L2045 132.6 L2048.1 131.9 L2051.3 131.2 L2054.4 130.6 L2057.5 130 L2060.7 129.4 L2063.8 128.8 L2066.9 128.2 L2070.1 127.7 L2073.2 127.2 L2076.3 126.6 L2079.4 126.1 L2082.5 125.6 L2085.6 125.2 L2088.6 124.7 L2091.7 124.2 L2094.7 123.8 L2097.7 123.3 L2100.6 122.9 L2103.6 122.5 L2106.5 122 L2109.4 121.6 L2112.2 121.2 L2115.1 120.8 L2117.9 120.4 L2120.7 120 L2123.5 119.7 L2126.3 119.3 L2129.1 119.1 L2131.9 118.8 L2134.7 118.6 L2137.6 118.5 L2140.4 118.4 L2143.3 118.4 L2146.2 118.4 L2149.1 118.5" fill="none" stroke="#ffa500" stroke-width="6.0" stroke-linejoin="round"/>
<path d="M1625.9 661 L1627.3 658 L1628.8 655.2 L1630.4 652.5 L1632.2 650 L1634 647.5 L1636 645.2 L1638 643 L1640.2 640.9 L1642.4 638.8 L1644.6 636.9 L1647 635 L1649.3 633.2 L1651.8 631.4 L1654.2 629.6 L1656.7 627.9 L1659.3 626.2 L1661.8 624.6 L1664.3 622.9 L1666.8 621.2 L1669.4 619.5 L1671.9 617.8 L1674.3 616.1 L1676.8 614.3 L1679.2 612.5 L1681.6 610.7 L1683.9 608.8 L1686.2 607 L1688.5 605 L1690.8 603.1 L1693.1 601.1 L1695.3 599.1 L1697.5 597.1 L1699.7 595 L1701.8 593 L1703.9 590.9 L1706.1 588.8 L1708.2 586.7 L1710.2 584.5 L1712.3 582.3 L1714.3 580.2 L1716.4 578 L1718.4 575.8 L1720.4 573.5 L1722.4 571.3 L1724.4 569.1 L1726.3 566.8 L1728.3 564.5 L1730.2 562.3 L1732.2 560 L1734.1 557.7 L1736 555.4 L1737.9 553 L1739.8 550.7 L1741.6 548.4 L1743.5 546 L1745.3 543.7 L1747.2 541.3 L1749 538.9 L1750.8 536.5 L1752.7 534.1 L1754.5 531.7 L1756.3 529.3 L1758 526.9 L1759.8 524.5 L1761.6 522 L1763.4 519.6 L1765.1 517.1 L1766.9 514.7 L1768.6 512.2 L1770.3 509.8 L1772.1 507.3 L1773.8 504.8 L1775.5 502.3 L1777.2 499.8 L1778.9 497.3 L1780.6 494.8 L1782.3 492.3 L1784 489.8 L1785.7 487.3 L1787.3 484.8 L1789 482.3 L1790.7 479.7 L1792.4 477.2 L1794 474.7 L1795.7 472.1 L1797.3 469.6 L1799 467.1 L1800.6 464.5 L1802.3 462 L1803.9 459.4 L1805.6 456.9 L1807.2 454.3 L1808.9 451.8 L1810.5 449.2 L1812.1 446.7 L1813.8 444.1 L1815.4 441.6 L1817 439 L1818.7 436.5 L1820.3 433.9 L1821.9 431.4 L1823.6 428.8 L1825.2 426.2 L1826.8 423.7 L1828.5 421.1 L1830.1 418.6 L1831.7 416 L1833.3 413.5 L1835 410.9 L1836.6 408.3 L1838.2 405.8 L1839.8 403.2 L1841.4 400.7 L1843.1 398.1 L1844.7 395.5 L1846.3 393 L1847.9 390.4 L1849.5 387.9 L1851.1 385.3 L1852.8 382.7 L1854.4 380.2 L1856 377.6 L1857.6 375.1 L1859.2 372.5 L1860.8 369.9 L1862.4 367.4 L1864 364.8 L1865.6 362.2 L1867.2 359.7 L1868.8 357.1 L1870.4 354.6 L1872 352 L1873.6 349.4 L1875.2 346.9 L1876.8 344.3 L1878.4 341.7 L1880 339.2 L1881.6 336.6 L1883.2 334.1 L1884.8 331.5 L1886.4 328.9 L1888 326.4 L1889.6 323.8 L1891.1 321.3 L1892.7 318.7 L1894.3 316.1 L1895.9 313.6 L1897.5 311 L1899.1 308.5 L1900.6 305.9 L1902.2 303.3 L1903.8 300.8 L1905.4 298.2 L1907 295.7 L1908.5 293.1 L1910.1 290.6 L1911.7 288 L1913.3 285.4 L1914.8 282.9 L1916.4 280.3 L1918 277.8 L1919.5 275.2 L1921.1 272.7 L1922.7 270.1 L1924.2 267.6 L1925.8 265 L1927.4 262.5 L1928.9 259.9 L1930.5 257.4 L1932 254.8 L1933.6 252.3 L1935.2 249.7 L1936.7 247.2 L1938.3 244.6 L1939.8 242.1 L1941.4 239.6 L1942.9 237 L1944.5 234.5 L1946 231.9 L1947.6 229.4 L1949.1 226.8 L1950.7 224.3 L1952.3 221.7 L1953.8 219.2 L1955.4 216.6 L1956.9 214.1 L1958.5 211.6 L1960 209 L1961.6 206.4 L1963.2 203.9 L1964.7 201.3 L1966.3 198.8 L1967.9 196.2 L1969.4 193.7 L1971 191.1 L1972.6 188.5 L1974.2 186 L1975.7 183.4 L1977.3 180.8 L1978.9 178.2 L1980.5 175.7 L1982.1 173.1 L1983.7 170.5 L1985.3 167.9 L1986.9 165.3 L1988.5 162.7 L1990.1 160.1 L1991.7 157.5 L1993.3 154.9 L1995 152.3 L1996.6 149.7 L1998.2 147.1 L1999.9 144.4 L2001.5 141.8 L2003.2 139.2 L2004.8 136.5 L2006.5 133.9 L2008.2 131.2 L2009.8 128.6 L2011.5 125.9 L2013.2 123.2 L2014.9 120.6 L2016.6 117.9 L2018.3 115.3 L2020 112.6 L2021.8 110 L2023.6 107.5 L2025.4 105 L2027.2 102.5 L2029.1 100.1 L2031 97.8 L2032.9 95.6 L2034.9 93.5 L2037 91.4 L2039.1 89.5 L2041.2 87.7 L2043.4 86 L2045.7 84.5 L2048 83.1 L2050.5 81.8 L2052.9 80.7 L2055.5 79.8 L2058.1 79.1 L2060.8 78.5 L2063.6 78.3 L2066.3 78.8 L2068.9 80.1 L2071.4 82.8" fill="none" stroke="#ff0000" stroke-width="6.0" stroke-linejoin="round"/>
<path d="M1660.7 660.5 L1662.4 658 L1664 655.4 L1665.7 652.9 L1667.3 650.4 L1669 647.9 L1670.7 645.3 L1672.3 642.8 L1674 640.3 L1675.6 637.8 L1677.3 635.2 L1679 632.7 L1680.6 630.2 L1682.3 627.7 L1683.9 625.1 L1685.6 622.6 L1687.2 620.1 L1688.9 617.5 L1690.6 615 L1692.2 612.5 L1693.9 610 L1695.5 607.4 L1697.2 604.9 L1698.8 602.4 L1700.5 599.8 L1702.1 597.3 L1703.8 594.8 L1705.5 592.3 L1707.1 589.7 L1708.8 587.2 L1710.4 584.7 L1712.1 582.1 L1713.7 579.6 L1715.4 577.1 L1717 574.6 L1718.7 572 L1720.4 569.5 L1722 567 L1723.7 564.4 L1725.3 561.9 L1727 559.4 L1728.6 556.9 L1730.3 554.3 L1731.9 551.8 L1733.6 549.3 L1735.2 546.7 L1736.9 544.2 L1738.5 541.7 L1740.2 539.1 L1741.8 536.6 L1743.5 534.1 L1745.1 531.5 L1746.8 529 L1748.5 526.5 L1750.1 524 L1751.8 521.4 L1753.4 518.9 L1755.1 516.4 L1756.7 513.8 L1758.4 511.3 L1760 508.8 L1761.7 506.2 L1763.3 503.7 L1765 501.2 L1766.6 498.6 L1768.3 496.1 L1769.9 493.6 L1771.6 491 L1773.2 488.5 L1774.9 486 L1776.5 483.4 L1778.2 480.9 L1779.8 478.4 L1781.5 475.9 L1783.1 473.3 L1784.8 470.8 L1786.4 468.3 L1788.1 465.7 L1789.7 463.2 L1791.4 460.7 L1793 458.1 L1794.7 455.6 L1796.3 453.1 L1798 450.5 L1799.6 448 L1801.3 445.5 L1802.9 442.9 L1804.6 440.4 L1806.2 437.9 L1807.9 435.3 L1809.5 432.8 L1811.2 430.3 L1812.8 427.7 L1814.5 425.2 L1816.1 422.7 L1817.8 420.1 L1819.4 417.6 L1821.1 415.1 L1822.7 412.5 L1824.4 410 L1826 407.5 L1827.7 404.9 L1829.3 402.4 L1831 399.9 L1832.6 397.3 L1834.3 394.8 L1835.9 392.3 L1837.6 389.7 L1839.2 387.2 L1840.9 384.7 L1842.5 382.1 L1844.2 379.6 L1845.8 377.1 L1847.4 374.5 L1849.1 372 L1850.7 369.5 L1852.4 366.9 L1854 364.4 L1855.7 361.9 L1857.3 359.3 L1859 356.8 L1860.6 354.3 L1862.3 351.7 L1863.9 349.2 L1865.6 346.7 L1867.2 344.1 L1868.9 341.6 L1870.5 339.1 L1872.2 336.5 L1873.8 334 L1875.5 331.5 L1877.1 328.9 L1878.8 326.4 L1880.4 323.9 L1882.1 321.3 L1883.7 318.8 L1885.4 316.3 L1887 313.7 L1888.7 311.2 L1890.3 308.7 L1892 306.1 L1893.6 303.6 L1895.3 301.1 L1896.9 298.5 L1898.6 296 L1900.2 293.5 L1901.9 290.9 L1903.5 288.4 L1905.2 285.9 L1906.8 283.4 L1908.5 280.8 L1910.1 278.3 L1911.8 275.8 L1913.4 273.2 L1915.1 270.7 L1916.7 268.2 L1918.4 265.6 L1920 263.1 L1921.7 260.6 L1923.3 258 L1925 255.5 L1926.6 253 L1928.3 250.4 L1929.9 247.9 L1931.6 245.4 L1933.2 242.8 L1934.9 240.3 L1936.5 237.8 L1938.2 235.2 L1939.8 232.7 L1941.5 230.2 L1943.1 227.6 L1944.8 225.1 L1946.4 222.6 L1948.1 220 L1949.7 217.5 L1951.4 215 L1953 212.5 L1954.7 209.9 L1956.3 207.4 L1958 204.9 L1959.6 202.3 L1961.3 199.8 L1962.9 197.3 L1964.6 194.7 L1966.2 192.2 L1967.9 189.7 L1969.6 187.1 L1971.2 184.6 L1972.9 182.1 L1974.5 179.6 L1976.2 177 L1977.8 174.5 L1979.5 172 L1981.1 169.4 L1982.8 166.9 L1984.4 164.4 L1986.1 161.8 L1987.7 159.3 L1989.4 156.8 L1991.1 154.3 L1992.7 151.7 L1994.4 149.2 L1996 146.7 L1997.7 144.1 L1999.3 141.6 L2001 139.1 L2002.6 136.6 L2004.3 134 L2005.9 131.5 L2007.6 129 L2009.3 126.4 L2010.9 123.9 L2012.6 121.4 L2014.2 118.9 L2015.9 116.3 L2017.5 113.8 L2019.2 111.3 L2020.9 108.7 L2022.5 106.2 L2024.2 103.7 L2025.8 101.2 L2027.5 98.6 L2029.1 96.1 L2030.8 93.6 L2032.5 91.1 L2034.1 88.5 L2035.8 86 L2037.4 83.5 L2039.1 81 L2040.8 78.4 L2042.4 75.9 L2044.1 73.4 L2045.7 70.8 L2047.4 68.3 L2049.1 65.8 L2050.7 63.3 L2052.4 60.7 L2054 58.2 L2055.7 55.7 L2057.4 53.2 L2059 50.6 L2060.7 48.1 L2062.3 45.6 L2064 43.1 L2065.7 40.5 L2067.3 38 L2069 35.5" fill="none" stroke="#a52a2a" stroke-width="6.0" stroke-linejoin="round"/>
</g>
<path d="M1583.7 47.7h56.2" stroke="#00ff00" stroke-width="6" stroke-linecap="butt"/>
<text x="1655.1" y="56.6" font-size="24" textLength="157.5" lengthAdjust="spacingAndGlyphs">Silva et al. 2015</text>
<path d="M1583.7 82.3h56.2" stroke="#0000cd" stroke-width="6" stroke-linecap="butt"/>
<text x="1655.1" y="91.2" font-size="24" textLength="187.8" lengthAdjust="spacingAndGlyphs">Fonseca et al. 2016</text>
<path d="M1583.7 116.9h56.2" stroke="#ffa500" stroke-width="6" stroke-linecap="butt"/>
<text x="1655.1" y="125.8" font-size="24" textLength="209.5" lengthAdjust="spacingAndGlyphs">Beherozzi et al.  2013</text>
<path d="M1583.7 151.5h56.2" stroke="#ff0000" stroke-width="6" stroke-linecap="butt"/>
<text x="1655.1" y="160.4" font-size="24" textLength="93.8" lengthAdjust="spacingAndGlyphs">TNG 300</text>
<path d="M1583.7 186.1h56.2" stroke="#a52a2a" stroke-width="6" stroke-linecap="butt"/>
<text x="1655.1" y="195" font-size="24" textLength="93.8" lengthAdjust="spacingAndGlyphs">TNG 100</text>
<text x="1987.4" y="54.8" font-size="28" font-style="italic">z</text>
<text x="2009.9" y="56.8" font-size="31" textLength="20.5" lengthAdjust="spacingAndGlyphs">∼</text>
<text x="2039.2" y="54.8" font-size="28">6</text>
<path d="M1608.8 653.4v-4.5M1608.8 16.8v4.5M1634.5 653.4v-4.5M1634.5 16.8v4.5M1652.7 653.4v-4.5M1652.7 16.8v4.5M1666.9 653.4v-4.5M1666.9 16.8v4.5M1678.4 653.4v-4.5M1678.4 16.8v4.5M1688.2 653.4v-4.5M1688.2 16.8v4.5M1696.6 653.4v-4.5M1696.6 16.8v4.5M1704.1 653.4v-4.5M1704.1 16.8v4.5M1710.8 653.4v-10M1710.8 16.8v10M1754.7 653.4v-4.5M1754.7 16.8v4.5M1780.4 653.4v-4.5M1780.4 16.8v4.5M1798.6 653.4v-4.5M1798.6 16.8v4.5M1812.7 653.4v-4.5M1812.7 16.8v4.5M1824.3 653.4v-4.5M1824.3 16.8v4.5M1834.1 653.4v-4.5M1834.1 16.8v4.5M1842.5 653.4v-4.5M1842.5 16.8v4.5M1850 653.4v-4.5M1850 16.8v4.5M1856.7 653.4v-10M1856.7 16.8v10M1900.6 653.4v-4.5M1900.6 16.8v4.5M1926.3 653.4v-4.5M1926.3 16.8v4.5M1944.5 653.4v-4.5M1944.5 16.8v4.5M1958.6 653.4v-4.5M1958.6 16.8v4.5M1970.2 653.4v-4.5M1970.2 16.8v4.5M1979.9 653.4v-4.5M1979.9 16.8v4.5M1988.4 653.4v-4.5M1988.4 16.8v4.5M1995.9 653.4v-4.5M1995.9 16.8v4.5M2002.5 653.4v-10M2002.5 16.8v10M2046.4 653.4v-4.5M2046.4 16.8v4.5M2072.1 653.4v-4.5M2072.1 16.8v4.5M2090.4 653.4v-4.5M2090.4 16.8v4.5M2104.5 653.4v-4.5M2104.5 16.8v4.5M2116 653.4v-4.5M2116 16.8v4.5M2125.8 653.4v-4.5M2125.8 16.8v4.5M2134.3 653.4v-4.5M2134.3 16.8v4.5M2141.7 653.4v-4.5M2141.7 16.8v4.5M1564.9 615.1h4.5M2148.4 615.1h-4.5M1564.9 592.7h4.5M2148.4 592.7h-4.5M1564.9 576.7h4.5M2148.4 576.7h-4.5M1564.9 564.4h4.5M2148.4 564.4h-4.5M1564.9 554.3h4.5M2148.4 554.3h-4.5M1564.9 545.8h4.5M2148.4 545.8h-4.5M1564.9 538.4h4.5M2148.4 538.4h-4.5M1564.9 531.9h4.5M2148.4 531.9h-4.5M1564.9 526.1h10M2148.4 526.1h-10M1564.9 487.8h4.5M2148.4 487.8h-4.5M1564.9 465.3h4.5M2148.4 465.3h-4.5M1564.9 449.4h4.5M2148.4 449.4h-4.5M1564.9 437.1h4.5M2148.4 437.1h-4.5M1564.9 427h4.5M2148.4 427h-4.5M1564.9 418.5h4.5M2148.4 418.5h-4.5M1564.9 411.1h4.5M2148.4 411.1h-4.5M1564.9 404.6h4.5M2148.4 404.6h-4.5M1564.9 398.8h10M2148.4 398.8h-10M1564.9 360.4h4.5M2148.4 360.4h-4.5M1564.9 338h4.5M2148.4 338h-4.5M1564.9 322.1h4.5M2148.4 322.1h-4.5M1564.9 309.8h4.5M2148.4 309.8h-4.5M1564.9 299.7h4.5M2148.4 299.7h-4.5M1564.9 291.2h4.5M2148.4 291.2h-4.5M1564.9 283.8h4.5M2148.4 283.8h-4.5M1564.9 277.3h4.5M2148.4 277.3h-4.5M1564.9 271.4h10M2148.4 271.4h-10M1564.9 233.1h4.5M2148.4 233.1h-4.5M1564.9 210.7h4.5M2148.4 210.7h-4.5M1564.9 194.8h4.5M2148.4 194.8h-4.5M1564.9 182.4h4.5M2148.4 182.4h-4.5M1564.9 172.4h4.5M2148.4 172.4h-4.5M1564.9 163.8h4.5M2148.4 163.8h-4.5M1564.9 156.5h4.5M2148.4 156.5h-4.5M1564.9 149.9h4.5M2148.4 149.9h-4.5M1564.9 144.1h10M2148.4 144.1h-10M1564.9 105.8h4.5M2148.4 105.8h-4.5M1564.9 83.4h4.5M2148.4 83.4h-4.5M1564.9 67.5h4.5M2148.4 67.5h-4.5M1564.9 55.1h4.5M2148.4 55.1h-4.5M1564.9 45h4.5M2148.4 45h-4.5M1564.9 36.5h4.5M2148.4 36.5h-4.5M1564.9 29.1h4.5M2148.4 29.1h-4.5M1564.9 22.6h4.5M2148.4 22.6h-4.5" stroke="#222" stroke-width="1.6" fill="none"/>
<rect x="1564.9" y="16.8" width="583.5" height="636.6" fill="none" stroke="#222" stroke-width="1.7"/>
<text x="1544" y="689" font-size="28" textLength="24.5" lengthAdjust="spacingAndGlyphs">10</text>
<text x="1570" y="679" font-size="20">9</text>
<text x="1684.8" y="689" font-size="28" textLength="24.5" lengthAdjust="spacingAndGlyphs">10</text>
<text x="1710.8" y="679" font-size="20">10</text>
<text x="1830.7" y="689" font-size="28" textLength="24.5" lengthAdjust="spacingAndGlyphs">10</text>
<text x="1856.7" y="679" font-size="20">11</text>
<text x="1976.6" y="689" font-size="28" textLength="24.5" lengthAdjust="spacingAndGlyphs">10</text>
<text x="2002.6" y="679" font-size="20">12</text>
<text x="2122.5" y="689" font-size="28" textLength="24.5" lengthAdjust="spacingAndGlyphs">10</text>
<text x="2148.5" y="679" font-size="20">13</text>
<text x="1547.3" y="653.1" font-size="20" text-anchor="end" textLength="23" lengthAdjust="spacingAndGlyphs">−2</text>
<text x="1520.8" y="663.4" font-size="28" text-anchor="end" textLength="24.5" lengthAdjust="spacingAndGlyphs">10</text>
<text x="1547.3" y="525.8" font-size="20" text-anchor="end" textLength="23" lengthAdjust="spacingAndGlyphs">−1</text>
<text x="1520.8" y="536.1" font-size="28" text-anchor="end" textLength="24.5" lengthAdjust="spacingAndGlyphs">10</text>
<text x="1548.1" y="398.5" font-size="20" text-anchor="end">0</text>
<text x="1537.3" y="408.8" font-size="28" text-anchor="end" textLength="24.5" lengthAdjust="spacingAndGlyphs">10</text>
<text x="1548.1" y="271.1" font-size="20" text-anchor="end">1</text>
<text x="1537.3" y="281.4" font-size="28" text-anchor="end" textLength="24.5" lengthAdjust="spacingAndGlyphs">10</text>
<text x="1548.1" y="143.8" font-size="20" text-anchor="end">2</text>
<text x="1537.3" y="154.1" font-size="28" text-anchor="end" textLength="24.5" lengthAdjust="spacingAndGlyphs">10</text>
<text x="1548.1" y="16.5" font-size="20" text-anchor="end">3</text>
<text x="1537.3" y="26.8" font-size="28" text-anchor="end" textLength="24.5" lengthAdjust="spacingAndGlyphs">10</text>
<text x="1776.7" y="721" font-size="28" textLength="156" lengthAdjust="spacingAndGlyphs"><tspan font-style="italic">M</tspan><tspan font-size="20" dy="4">halo</tspan><tspan dy="-4"> [</tspan><tspan font-style="italic">M</tspan><tspan font-size="19" dy="5">⊙</tspan><tspan dy="-5">/</tspan><tspan font-style="italic">h</tspan>]</text>
<text transform="translate(1489.4 419.2) rotate(-90)" x="0" y="0" font-size="32" textLength="162" lengthAdjust="spacingAndGlyphs">sfr [<tspan font-style="italic">M</tspan><tspan font-size="19" dy="5">⊙</tspan><tspan dy="-5">/</tspan><tspan font-style="italic">h</tspan>/<tspan font-style="italic">yr</tspan>]</text>
</svg></body></html>
